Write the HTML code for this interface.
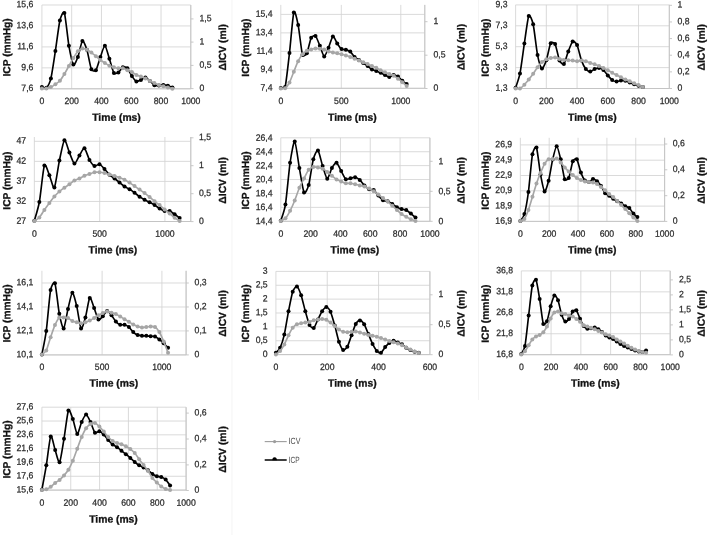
<!DOCTYPE html>
<html><head><meta charset="utf-8"><title>ICP and ICV pulse waveforms</title>
<style>
html,body{margin:0;padding:0;background:#fff;}
body{width:709px;height:535px;overflow:hidden;}
svg{display:block;}
text{text-rendering:geometricPrecision;}
.g{stroke:#d3d3d3;stroke-width:0.85;fill:none;}
.a{stroke:#c2c2c2;stroke-width:0.9;fill:none;}
.t{font-family:"Liberation Sans", Arial, sans-serif;font-size:9.20px;fill:#2b2b2b;stroke:#2b2b2b;stroke-width:0.25px;}
.b{font-family:"Liberation Sans", Arial, sans-serif;font-size:10.30px;font-weight:bold;fill:#111;stroke:#111;stroke-width:0.3px;}
.l{font-family:"Liberation Sans", Arial, sans-serif;font-size:9.0px;fill:#4a4a4a;}
</style></head><body>
<svg width="709" height="535" viewBox="0 0 709 535" style="filter:blur(0.5px)">
<rect width="709" height="535" fill="#fff"/>
<g><line x1="41.90" y1="5.00" x2="41.90" y2="88.80" class="g"/>
<line x1="71.68" y1="5.00" x2="71.68" y2="88.80" class="g"/>
<line x1="101.46" y1="5.00" x2="101.46" y2="88.80" class="g"/>
<line x1="131.24" y1="5.00" x2="131.24" y2="88.80" class="g"/>
<line x1="161.02" y1="5.00" x2="161.02" y2="88.80" class="g"/>
<line x1="190.80" y1="5.00" x2="190.80" y2="88.80" class="g"/>
<line x1="41.90" y1="5.00" x2="190.80" y2="5.00" class="g"/>
<line x1="41.90" y1="25.95" x2="190.80" y2="25.95" class="g"/>
<line x1="41.90" y1="46.90" x2="190.80" y2="46.90" class="g"/>
<line x1="41.90" y1="67.85" x2="190.80" y2="67.85" class="g"/>
<line x1="41.90" y1="88.80" x2="190.80" y2="88.80" class="g"/>
<line x1="190.80" y1="5.00" x2="190.80" y2="88.80" class="a"/>
<line x1="41.90" y1="88.80" x2="190.80" y2="88.80" class="a"/>
<line x1="190.80" y1="18.90" x2="193.50" y2="18.90" class="a"/>
<line x1="190.80" y1="42.10" x2="193.50" y2="42.10" class="a"/>
<line x1="190.80" y1="65.40" x2="193.50" y2="65.40" class="a"/>
<line x1="190.80" y1="88.60" x2="193.50" y2="88.60" class="a"/>
<text transform="translate(33.40 7.30) rotate(0.04) scale(0.943 1)" class="t" text-anchor="end">15,6</text>
<text transform="translate(33.40 28.25) rotate(0.04) scale(0.943 1)" class="t" text-anchor="end">13,6</text>
<text transform="translate(33.40 49.20) rotate(0.04) scale(0.943 1)" class="t" text-anchor="end">11,6</text>
<text transform="translate(33.40 70.15) rotate(0.04) scale(0.943 1)" class="t" text-anchor="end">9,6</text>
<text transform="translate(33.40 91.10) rotate(0.04) scale(0.943 1)" class="t" text-anchor="end">7,6</text>
<text transform="translate(199.50 21.20) rotate(0.04) scale(0.943 1)" class="t">1,5</text>
<text transform="translate(199.50 44.40) rotate(0.04) scale(0.943 1)" class="t">1</text>
<text transform="translate(199.50 67.70) rotate(0.04) scale(0.943 1)" class="t">0,5</text>
<text transform="translate(199.50 90.90) rotate(0.04) scale(0.943 1)" class="t">0</text>
<text transform="translate(41.90 104.00) rotate(0.04) scale(0.943 1)" class="t" text-anchor="middle">0</text>
<text transform="translate(71.68 104.00) rotate(0.04) scale(0.943 1)" class="t" text-anchor="middle">200</text>
<text transform="translate(101.46 104.00) rotate(0.04) scale(0.943 1)" class="t" text-anchor="middle">400</text>
<text transform="translate(131.24 104.00) rotate(0.04) scale(0.943 1)" class="t" text-anchor="middle">600</text>
<text transform="translate(161.02 104.00) rotate(0.04) scale(0.943 1)" class="t" text-anchor="middle">800</text>
<text transform="translate(190.80 104.00) rotate(0.04) scale(0.943 1)" class="t" text-anchor="middle">1000</text>
<text transform="translate(10.25 47.40) rotate(-89.96)" class="b" text-anchor="middle" textLength="58.2" lengthAdjust="spacingAndGlyphs">ICP (mmHg)</text>
<text transform="translate(226.00 47.20) rotate(-89.96)" class="b" text-anchor="middle" textLength="46.5" lengthAdjust="spacingAndGlyphs">ΔICV (ml)</text>
<text transform="translate(116.50 120.85) rotate(0.04)" class="b" text-anchor="middle" textLength="48.6" lengthAdjust="spacingAndGlyphs">Time (ms)</text>
<path d="M41.90 87.10C42.44 87.18 45.32 88.84 46.40 87.80C47.48 86.76 49.91 82.45 50.90 78.40C51.98 73.97 54.32 57.85 55.40 50.90C56.48 43.95 58.82 25.05 59.90 20.50C60.71 17.10 63.32 9.96 64.40 13.00C65.48 16.04 67.82 39.63 68.90 45.80C69.98 51.97 72.32 63.06 73.40 64.40C74.48 65.74 76.82 59.80 77.90 57.00C78.98 54.20 81.32 41.98 82.40 41.10C83.48 40.22 85.82 46.32 86.90 49.70C87.98 53.08 90.32 66.84 91.40 69.30C92.14 70.98 94.82 71.68 95.90 70.20C96.98 68.72 99.32 59.93 100.40 57.00C101.48 54.07 103.82 45.58 104.90 45.80C105.98 46.02 108.32 55.54 109.40 58.80C110.48 62.06 112.82 71.37 113.90 73.00C114.90 74.51 117.32 73.10 118.40 72.40C119.48 71.70 121.82 67.69 122.90 67.20C123.98 66.71 126.32 67.23 127.40 68.30C128.48 69.37 130.82 74.53 131.90 76.10C132.98 77.67 135.32 80.94 136.40 81.40C137.48 81.86 139.82 80.37 140.90 79.90C141.98 79.43 144.32 77.38 145.40 77.50C146.48 77.62 148.82 79.98 149.90 80.90C150.98 81.82 153.32 84.64 154.40 85.20C155.48 85.76 157.82 85.64 158.90 85.60C159.98 85.56 162.32 84.89 163.40 84.90C164.48 84.91 166.82 85.40 167.90 85.70C168.98 86.00 171.86 87.20 172.40 87.40" fill="none" stroke="#000000" stroke-width="1.65" stroke-linejoin="round" stroke-linecap="round"/>
<circle cx="41.90" cy="87.10" r="2.0" fill="#000000"/>
<circle cx="46.40" cy="87.80" r="2.0" fill="#000000"/>
<circle cx="50.90" cy="78.40" r="2.0" fill="#000000"/>
<circle cx="55.40" cy="50.90" r="2.0" fill="#000000"/>
<circle cx="59.90" cy="20.50" r="2.0" fill="#000000"/>
<circle cx="64.40" cy="13.00" r="2.0" fill="#000000"/>
<circle cx="68.90" cy="45.80" r="2.0" fill="#000000"/>
<circle cx="73.40" cy="64.40" r="2.0" fill="#000000"/>
<circle cx="77.90" cy="57.00" r="2.0" fill="#000000"/>
<circle cx="82.40" cy="41.10" r="2.0" fill="#000000"/>
<circle cx="86.90" cy="49.70" r="2.0" fill="#000000"/>
<circle cx="91.40" cy="69.30" r="2.0" fill="#000000"/>
<circle cx="95.90" cy="70.20" r="2.0" fill="#000000"/>
<circle cx="100.40" cy="57.00" r="2.0" fill="#000000"/>
<circle cx="104.90" cy="45.80" r="2.0" fill="#000000"/>
<circle cx="109.40" cy="58.80" r="2.0" fill="#000000"/>
<circle cx="113.90" cy="73.00" r="2.0" fill="#000000"/>
<circle cx="118.40" cy="72.40" r="2.0" fill="#000000"/>
<circle cx="122.90" cy="67.20" r="2.0" fill="#000000"/>
<circle cx="127.40" cy="68.30" r="2.0" fill="#000000"/>
<circle cx="131.90" cy="76.10" r="2.0" fill="#000000"/>
<circle cx="136.40" cy="81.40" r="2.0" fill="#000000"/>
<circle cx="140.90" cy="79.90" r="2.0" fill="#000000"/>
<circle cx="145.40" cy="77.50" r="2.0" fill="#000000"/>
<circle cx="149.90" cy="80.90" r="2.0" fill="#000000"/>
<circle cx="154.40" cy="85.20" r="2.0" fill="#000000"/>
<circle cx="158.90" cy="85.60" r="2.0" fill="#000000"/>
<circle cx="163.40" cy="84.90" r="2.0" fill="#000000"/>
<circle cx="167.90" cy="85.70" r="2.0" fill="#000000"/>
<circle cx="172.40" cy="87.40" r="2.0" fill="#000000"/>
<path d="M41.90 88.50C42.44 88.50 45.32 88.67 46.40 88.50C47.48 88.33 49.82 87.60 50.90 87.10C51.98 86.60 54.32 85.06 55.40 84.30C56.48 83.54 58.82 82.04 59.90 80.80C60.98 79.56 63.32 75.78 64.40 74.00C65.48 72.22 67.82 67.92 68.90 66.00C69.98 64.08 72.32 59.76 73.40 58.00C74.48 56.24 76.82 52.44 77.90 51.30C78.98 50.16 81.32 48.68 82.40 48.50C83.48 48.32 85.82 49.31 86.90 49.80C87.98 50.29 90.32 51.83 91.40 52.60C92.48 53.37 94.82 55.31 95.90 56.20C96.98 57.09 99.32 59.18 100.40 60.00C101.48 60.82 103.82 62.32 104.90 63.00C105.98 63.68 108.32 65.20 109.40 65.70C110.48 66.20 112.82 66.90 113.90 67.20C114.98 67.50 117.32 68.08 118.40 68.20C119.48 68.32 121.82 67.96 122.90 68.20C123.98 68.44 126.32 69.76 127.40 70.20C128.48 70.64 130.82 71.32 131.90 71.90C132.98 72.48 135.32 74.46 136.40 75.00C137.48 75.54 139.82 75.97 140.90 76.40C141.98 76.83 144.32 78.06 145.40 78.60C146.48 79.14 148.82 80.37 149.90 80.90C150.98 81.43 153.32 82.52 154.40 83.00C155.48 83.48 157.82 84.50 158.90 84.90C159.98 85.30 162.32 86.00 163.40 86.30C164.48 86.60 166.82 87.10 167.90 87.40C168.98 87.70 171.86 88.63 172.40 88.80" fill="none" stroke="#a6a6a6" stroke-width="1.65" stroke-linejoin="round" stroke-linecap="round"/>
<circle cx="41.90" cy="88.50" r="2.0" fill="#a6a6a6"/>
<circle cx="46.40" cy="88.50" r="2.0" fill="#a6a6a6"/>
<circle cx="50.90" cy="87.10" r="2.0" fill="#a6a6a6"/>
<circle cx="55.40" cy="84.30" r="2.0" fill="#a6a6a6"/>
<circle cx="59.90" cy="80.80" r="2.0" fill="#a6a6a6"/>
<circle cx="64.40" cy="74.00" r="2.0" fill="#a6a6a6"/>
<circle cx="68.90" cy="66.00" r="2.0" fill="#a6a6a6"/>
<circle cx="73.40" cy="58.00" r="2.0" fill="#a6a6a6"/>
<circle cx="77.90" cy="51.30" r="2.0" fill="#a6a6a6"/>
<circle cx="82.40" cy="48.50" r="2.0" fill="#a6a6a6"/>
<circle cx="86.90" cy="49.80" r="2.0" fill="#a6a6a6"/>
<circle cx="91.40" cy="52.60" r="2.0" fill="#a6a6a6"/>
<circle cx="95.90" cy="56.20" r="2.0" fill="#a6a6a6"/>
<circle cx="100.40" cy="60.00" r="2.0" fill="#a6a6a6"/>
<circle cx="104.90" cy="63.00" r="2.0" fill="#a6a6a6"/>
<circle cx="109.40" cy="65.70" r="2.0" fill="#a6a6a6"/>
<circle cx="113.90" cy="67.20" r="2.0" fill="#a6a6a6"/>
<circle cx="118.40" cy="68.20" r="2.0" fill="#a6a6a6"/>
<circle cx="122.90" cy="68.20" r="2.0" fill="#a6a6a6"/>
<circle cx="127.40" cy="70.20" r="2.0" fill="#a6a6a6"/>
<circle cx="131.90" cy="71.90" r="2.0" fill="#a6a6a6"/>
<circle cx="136.40" cy="75.00" r="2.0" fill="#a6a6a6"/>
<circle cx="140.90" cy="76.40" r="2.0" fill="#a6a6a6"/>
<circle cx="145.40" cy="78.60" r="2.0" fill="#a6a6a6"/>
<circle cx="149.90" cy="80.90" r="2.0" fill="#a6a6a6"/>
<circle cx="154.40" cy="83.00" r="2.0" fill="#a6a6a6"/>
<circle cx="158.90" cy="84.90" r="2.0" fill="#a6a6a6"/>
<circle cx="163.40" cy="86.30" r="2.0" fill="#a6a6a6"/>
<circle cx="167.90" cy="87.40" r="2.0" fill="#a6a6a6"/>
<circle cx="172.40" cy="88.80" r="2.0" fill="#a6a6a6"/></g>
<g><line x1="280.80" y1="4.90" x2="280.80" y2="88.30" class="g"/>
<line x1="341.30" y1="4.90" x2="341.30" y2="88.30" class="g"/>
<line x1="400.80" y1="4.90" x2="400.80" y2="88.30" class="g"/>
<line x1="424.80" y1="4.90" x2="424.80" y2="88.30" class="g"/>
<line x1="280.80" y1="14.40" x2="424.80" y2="14.40" class="g"/>
<line x1="280.80" y1="32.88" x2="424.80" y2="32.88" class="g"/>
<line x1="280.80" y1="51.35" x2="424.80" y2="51.35" class="g"/>
<line x1="280.80" y1="69.83" x2="424.80" y2="69.83" class="g"/>
<line x1="280.80" y1="88.30" x2="424.80" y2="88.30" class="g"/>
<line x1="424.80" y1="4.90" x2="424.80" y2="88.30" class="a"/>
<line x1="280.80" y1="88.30" x2="424.80" y2="88.30" class="a"/>
<line x1="424.80" y1="21.70" x2="427.50" y2="21.70" class="a"/>
<line x1="424.80" y1="55.20" x2="427.50" y2="55.20" class="a"/>
<line x1="424.80" y1="88.50" x2="427.50" y2="88.50" class="a"/>
<text transform="translate(272.60 16.70) rotate(0.04) scale(0.943 1)" class="t" text-anchor="end">15,4</text>
<text transform="translate(272.60 35.17) rotate(0.04) scale(0.943 1)" class="t" text-anchor="end">13,4</text>
<text transform="translate(272.60 53.65) rotate(0.04) scale(0.943 1)" class="t" text-anchor="end">11,4</text>
<text transform="translate(272.60 72.12) rotate(0.04) scale(0.943 1)" class="t" text-anchor="end">9,4</text>
<text transform="translate(272.60 90.60) rotate(0.04) scale(0.943 1)" class="t" text-anchor="end">7,4</text>
<text transform="translate(433.40 24.00) rotate(0.04) scale(0.943 1)" class="t">1</text>
<text transform="translate(433.40 57.50) rotate(0.04) scale(0.943 1)" class="t">0,5</text>
<text transform="translate(433.40 90.80) rotate(0.04) scale(0.943 1)" class="t">0</text>
<text transform="translate(280.80 104.00) rotate(0.04) scale(0.943 1)" class="t" text-anchor="middle">0</text>
<text transform="translate(341.30 104.00) rotate(0.04) scale(0.943 1)" class="t" text-anchor="middle">500</text>
<text transform="translate(400.80 104.00) rotate(0.04) scale(0.943 1)" class="t" text-anchor="middle">1000</text>
<text transform="translate(249.10 47.60) rotate(-89.96)" class="b" text-anchor="middle" textLength="58.2" lengthAdjust="spacingAndGlyphs">ICP (mmHg)</text>
<text transform="translate(464.60 47.10) rotate(-89.96)" class="b" text-anchor="middle" textLength="46.5" lengthAdjust="spacingAndGlyphs">ΔICV (ml)</text>
<text transform="translate(352.30 120.85) rotate(0.04)" class="b" text-anchor="middle" textLength="48.6" lengthAdjust="spacingAndGlyphs">Time (ms)</text>
<path d="M280.80 88.10C281.32 87.98 284.71 88.83 285.14 87.10C286.18 82.89 288.44 61.96 289.48 53.00C290.52 44.04 292.78 15.75 293.82 12.40C294.86 9.05 297.12 19.99 298.16 25.10C299.20 30.21 301.46 51.62 302.50 55.00C303.05 56.78 306.00 54.96 306.84 53.30C307.88 51.24 310.14 39.88 311.18 37.80C312.02 36.12 314.48 35.04 315.52 36.00C316.56 36.96 318.82 43.35 319.86 45.80C320.90 48.25 323.16 56.17 324.20 56.40C325.24 56.63 327.50 50.10 328.54 47.70C329.58 45.30 331.84 36.92 332.88 36.40C333.92 35.88 336.18 41.88 337.22 43.40C338.26 44.92 340.52 48.33 341.56 49.10C342.60 49.87 344.86 49.51 345.90 49.80C346.94 50.09 349.20 50.64 350.24 51.50C351.28 52.36 353.54 55.99 354.58 57.00C355.62 58.01 357.88 59.17 358.92 59.90C359.96 60.63 362.22 62.37 363.26 63.10C364.30 63.83 366.56 65.23 367.60 66.00C368.64 66.77 370.90 68.91 371.94 69.50C372.98 70.09 375.24 70.52 376.28 70.90C377.32 71.28 379.58 72.20 380.62 72.70C381.66 73.20 383.92 74.58 384.96 75.10C386.00 75.62 388.26 77.00 389.30 77.00C390.34 77.00 392.60 75.16 393.64 75.10C394.68 75.04 396.94 75.82 397.98 76.50C399.02 77.18 401.28 79.90 402.32 80.80C403.36 81.70 406.14 83.62 406.66 84.00" fill="none" stroke="#000000" stroke-width="1.65" stroke-linejoin="round" stroke-linecap="round"/>
<circle cx="280.80" cy="88.10" r="2.0" fill="#000000"/>
<circle cx="285.14" cy="87.10" r="2.0" fill="#000000"/>
<circle cx="289.48" cy="53.00" r="2.0" fill="#000000"/>
<circle cx="293.82" cy="12.40" r="2.0" fill="#000000"/>
<circle cx="298.16" cy="25.10" r="2.0" fill="#000000"/>
<circle cx="302.50" cy="55.00" r="2.0" fill="#000000"/>
<circle cx="306.84" cy="53.30" r="2.0" fill="#000000"/>
<circle cx="311.18" cy="37.80" r="2.0" fill="#000000"/>
<circle cx="315.52" cy="36.00" r="2.0" fill="#000000"/>
<circle cx="319.86" cy="45.80" r="2.0" fill="#000000"/>
<circle cx="324.20" cy="56.40" r="2.0" fill="#000000"/>
<circle cx="328.54" cy="47.70" r="2.0" fill="#000000"/>
<circle cx="332.88" cy="36.40" r="2.0" fill="#000000"/>
<circle cx="337.22" cy="43.40" r="2.0" fill="#000000"/>
<circle cx="341.56" cy="49.10" r="2.0" fill="#000000"/>
<circle cx="345.90" cy="49.80" r="2.0" fill="#000000"/>
<circle cx="350.24" cy="51.50" r="2.0" fill="#000000"/>
<circle cx="354.58" cy="57.00" r="2.0" fill="#000000"/>
<circle cx="358.92" cy="59.90" r="2.0" fill="#000000"/>
<circle cx="363.26" cy="63.10" r="2.0" fill="#000000"/>
<circle cx="367.60" cy="66.00" r="2.0" fill="#000000"/>
<circle cx="371.94" cy="69.50" r="2.0" fill="#000000"/>
<circle cx="376.28" cy="70.90" r="2.0" fill="#000000"/>
<circle cx="380.62" cy="72.70" r="2.0" fill="#000000"/>
<circle cx="384.96" cy="75.10" r="2.0" fill="#000000"/>
<circle cx="389.30" cy="77.00" r="2.0" fill="#000000"/>
<circle cx="393.64" cy="75.10" r="2.0" fill="#000000"/>
<circle cx="397.98" cy="76.50" r="2.0" fill="#000000"/>
<circle cx="402.32" cy="80.80" r="2.0" fill="#000000"/>
<circle cx="406.66" cy="84.00" r="2.0" fill="#000000"/>
<path d="M280.80 88.40C281.32 88.38 284.10 88.91 285.14 88.20C286.18 87.49 288.44 84.48 289.48 82.50C290.52 80.52 292.78 74.26 293.82 71.70C294.86 69.14 297.12 63.29 298.16 61.20C299.20 59.11 301.46 55.55 302.50 54.30C303.54 53.05 305.80 51.39 306.84 50.80C307.88 50.21 310.14 49.69 311.18 49.40C312.22 49.11 314.48 48.48 315.52 48.40C316.56 48.32 318.82 48.56 319.86 48.70C320.90 48.84 323.16 49.26 324.20 49.60C325.24 49.94 327.50 51.15 328.54 51.50C329.58 51.85 331.84 52.28 332.88 52.50C333.92 52.72 336.18 53.10 337.22 53.30C338.26 53.50 340.52 53.94 341.56 54.20C342.60 54.46 344.86 55.18 345.90 55.50C346.94 55.82 349.20 56.52 350.24 56.90C351.28 57.28 353.54 58.28 354.58 58.70C355.62 59.12 357.88 59.97 358.92 60.40C359.96 60.83 362.22 61.87 363.26 62.30C364.30 62.73 366.56 63.56 367.60 64.00C368.64 64.44 370.90 65.54 371.94 66.00C372.98 66.46 375.24 67.30 376.28 67.80C377.32 68.30 379.58 69.66 380.62 70.20C381.66 70.74 383.92 71.84 384.96 72.30C386.00 72.76 388.26 73.58 389.30 74.00C390.34 74.42 392.60 75.24 393.64 75.80C394.68 76.36 396.94 77.93 397.98 78.70C399.02 79.47 401.28 81.31 402.32 82.20C403.36 83.09 406.14 85.63 406.66 86.10" fill="none" stroke="#a6a6a6" stroke-width="1.65" stroke-linejoin="round" stroke-linecap="round"/>
<circle cx="280.80" cy="88.40" r="2.0" fill="#a6a6a6"/>
<circle cx="285.14" cy="88.20" r="2.0" fill="#a6a6a6"/>
<circle cx="289.48" cy="82.50" r="2.0" fill="#a6a6a6"/>
<circle cx="293.82" cy="71.70" r="2.0" fill="#a6a6a6"/>
<circle cx="298.16" cy="61.20" r="2.0" fill="#a6a6a6"/>
<circle cx="302.50" cy="54.30" r="2.0" fill="#a6a6a6"/>
<circle cx="306.84" cy="50.80" r="2.0" fill="#a6a6a6"/>
<circle cx="311.18" cy="49.40" r="2.0" fill="#a6a6a6"/>
<circle cx="315.52" cy="48.40" r="2.0" fill="#a6a6a6"/>
<circle cx="319.86" cy="48.70" r="2.0" fill="#a6a6a6"/>
<circle cx="324.20" cy="49.60" r="2.0" fill="#a6a6a6"/>
<circle cx="328.54" cy="51.50" r="2.0" fill="#a6a6a6"/>
<circle cx="332.88" cy="52.50" r="2.0" fill="#a6a6a6"/>
<circle cx="337.22" cy="53.30" r="2.0" fill="#a6a6a6"/>
<circle cx="341.56" cy="54.20" r="2.0" fill="#a6a6a6"/>
<circle cx="345.90" cy="55.50" r="2.0" fill="#a6a6a6"/>
<circle cx="350.24" cy="56.90" r="2.0" fill="#a6a6a6"/>
<circle cx="354.58" cy="58.70" r="2.0" fill="#a6a6a6"/>
<circle cx="358.92" cy="60.40" r="2.0" fill="#a6a6a6"/>
<circle cx="363.26" cy="62.30" r="2.0" fill="#a6a6a6"/>
<circle cx="367.60" cy="64.00" r="2.0" fill="#a6a6a6"/>
<circle cx="371.94" cy="66.00" r="2.0" fill="#a6a6a6"/>
<circle cx="376.28" cy="67.80" r="2.0" fill="#a6a6a6"/>
<circle cx="380.62" cy="70.20" r="2.0" fill="#a6a6a6"/>
<circle cx="384.96" cy="72.30" r="2.0" fill="#a6a6a6"/>
<circle cx="389.30" cy="74.00" r="2.0" fill="#a6a6a6"/>
<circle cx="393.64" cy="75.80" r="2.0" fill="#a6a6a6"/>
<circle cx="397.98" cy="78.70" r="2.0" fill="#a6a6a6"/>
<circle cx="402.32" cy="82.20" r="2.0" fill="#a6a6a6"/>
<circle cx="406.66" cy="86.10" r="2.0" fill="#a6a6a6"/></g>
<g><line x1="515.60" y1="4.90" x2="515.60" y2="88.50" class="g"/>
<line x1="546.34" y1="4.90" x2="546.34" y2="88.50" class="g"/>
<line x1="577.08" y1="4.90" x2="577.08" y2="88.50" class="g"/>
<line x1="607.82" y1="4.90" x2="607.82" y2="88.50" class="g"/>
<line x1="638.56" y1="4.90" x2="638.56" y2="88.50" class="g"/>
<line x1="669.30" y1="4.90" x2="669.30" y2="88.50" class="g"/>
<line x1="515.60" y1="4.90" x2="669.30" y2="4.90" class="g"/>
<line x1="515.60" y1="25.80" x2="669.30" y2="25.80" class="g"/>
<line x1="515.60" y1="46.70" x2="669.30" y2="46.70" class="g"/>
<line x1="515.60" y1="67.60" x2="669.30" y2="67.60" class="g"/>
<line x1="515.60" y1="88.50" x2="669.30" y2="88.50" class="g"/>
<line x1="669.30" y1="4.90" x2="669.30" y2="88.50" class="a"/>
<line x1="515.60" y1="88.50" x2="669.30" y2="88.50" class="a"/>
<line x1="669.30" y1="5.30" x2="672.00" y2="5.30" class="a"/>
<line x1="669.30" y1="21.94" x2="672.00" y2="21.94" class="a"/>
<line x1="669.30" y1="38.58" x2="672.00" y2="38.58" class="a"/>
<line x1="669.30" y1="55.22" x2="672.00" y2="55.22" class="a"/>
<line x1="669.30" y1="71.86" x2="672.00" y2="71.86" class="a"/>
<line x1="669.30" y1="88.50" x2="672.00" y2="88.50" class="a"/>
<text transform="translate(507.50 7.20) rotate(0.04) scale(0.943 1)" class="t" text-anchor="end">9,3</text>
<text transform="translate(507.50 28.10) rotate(0.04) scale(0.943 1)" class="t" text-anchor="end">7,3</text>
<text transform="translate(507.50 49.00) rotate(0.04) scale(0.943 1)" class="t" text-anchor="end">5,3</text>
<text transform="translate(507.50 69.90) rotate(0.04) scale(0.943 1)" class="t" text-anchor="end">3,3</text>
<text transform="translate(507.50 90.80) rotate(0.04) scale(0.943 1)" class="t" text-anchor="end">1,3</text>
<text transform="translate(677.50 7.60) rotate(0.04) scale(0.943 1)" class="t">1</text>
<text transform="translate(677.50 24.24) rotate(0.04) scale(0.943 1)" class="t">0,8</text>
<text transform="translate(677.50 40.88) rotate(0.04) scale(0.943 1)" class="t">0,6</text>
<text transform="translate(677.50 57.52) rotate(0.04) scale(0.943 1)" class="t">0,4</text>
<text transform="translate(677.50 74.16) rotate(0.04) scale(0.943 1)" class="t">0,2</text>
<text transform="translate(677.50 90.80) rotate(0.04) scale(0.943 1)" class="t">0</text>
<text transform="translate(515.60 104.00) rotate(0.04) scale(0.943 1)" class="t" text-anchor="middle">0</text>
<text transform="translate(546.34 104.00) rotate(0.04) scale(0.943 1)" class="t" text-anchor="middle">200</text>
<text transform="translate(577.08 104.00) rotate(0.04) scale(0.943 1)" class="t" text-anchor="middle">400</text>
<text transform="translate(607.82 104.00) rotate(0.04) scale(0.943 1)" class="t" text-anchor="middle">600</text>
<text transform="translate(638.56 104.00) rotate(0.04) scale(0.943 1)" class="t" text-anchor="middle">800</text>
<text transform="translate(669.30 104.00) rotate(0.04) scale(0.943 1)" class="t" text-anchor="middle">1000</text>
<text transform="translate(488.80 47.60) rotate(-89.96)" class="b" text-anchor="middle" textLength="58.2" lengthAdjust="spacingAndGlyphs">ICP (mmHg)</text>
<text transform="translate(704.80 47.20) rotate(-89.96)" class="b" text-anchor="middle" textLength="46.5" lengthAdjust="spacingAndGlyphs">ΔICV (ml)</text>
<text transform="translate(592.30 120.85) rotate(0.04)" class="b" text-anchor="middle" textLength="48.6" lengthAdjust="spacingAndGlyphs">Time (ms)</text>
<path d="M515.60 87.80C516.13 86.07 518.94 78.73 519.99 73.40C521.04 68.07 523.33 50.30 524.38 43.40C525.43 36.50 527.72 18.19 528.77 15.90C529.82 13.61 532.33 20.60 533.16 24.30C534.21 29.00 536.50 49.80 537.55 55.10C538.60 60.40 540.89 67.89 541.94 68.50C542.99 69.11 545.28 63.24 546.33 60.20C547.38 57.16 549.67 45.13 550.72 43.20C551.58 41.63 554.30 42.50 555.11 44.10C556.16 46.16 558.45 58.01 559.50 60.40C560.42 62.48 562.84 65.08 563.89 64.00C564.94 62.92 567.23 54.09 568.28 51.40C569.33 48.71 571.62 42.37 572.67 41.60C573.72 40.83 576.12 42.99 577.06 45.00C578.11 47.26 580.40 57.51 581.45 60.40C582.50 63.29 584.79 67.76 585.84 69.10C586.89 70.44 589.18 71.60 590.23 71.60C591.28 71.60 593.57 69.53 594.62 69.10C595.67 68.67 597.96 67.88 599.01 68.00C600.06 68.12 602.35 69.21 603.40 70.10C604.45 70.99 606.74 74.20 607.79 75.40C608.84 76.60 611.13 79.37 612.18 80.10C613.23 80.83 615.52 81.45 616.57 81.50C617.62 81.55 619.91 80.58 620.96 80.50C622.01 80.42 624.30 80.56 625.35 80.80C626.40 81.04 628.69 82.08 629.74 82.50C630.79 82.92 633.08 83.92 634.13 84.30C635.18 84.68 637.47 85.36 638.52 85.70C639.57 86.04 642.38 86.93 642.91 87.10" fill="none" stroke="#000000" stroke-width="1.65" stroke-linejoin="round" stroke-linecap="round"/>
<circle cx="515.60" cy="87.80" r="2.0" fill="#000000"/>
<circle cx="519.99" cy="73.40" r="2.0" fill="#000000"/>
<circle cx="524.38" cy="43.40" r="2.0" fill="#000000"/>
<circle cx="528.77" cy="15.90" r="2.0" fill="#000000"/>
<circle cx="533.16" cy="24.30" r="2.0" fill="#000000"/>
<circle cx="537.55" cy="55.10" r="2.0" fill="#000000"/>
<circle cx="541.94" cy="68.50" r="2.0" fill="#000000"/>
<circle cx="546.33" cy="60.20" r="2.0" fill="#000000"/>
<circle cx="550.72" cy="43.20" r="2.0" fill="#000000"/>
<circle cx="555.11" cy="44.10" r="2.0" fill="#000000"/>
<circle cx="559.50" cy="60.40" r="2.0" fill="#000000"/>
<circle cx="563.89" cy="64.00" r="2.0" fill="#000000"/>
<circle cx="568.28" cy="51.40" r="2.0" fill="#000000"/>
<circle cx="572.67" cy="41.60" r="2.0" fill="#000000"/>
<circle cx="577.06" cy="45.00" r="2.0" fill="#000000"/>
<circle cx="581.45" cy="60.40" r="2.0" fill="#000000"/>
<circle cx="585.84" cy="69.10" r="2.0" fill="#000000"/>
<circle cx="590.23" cy="71.60" r="2.0" fill="#000000"/>
<circle cx="594.62" cy="69.10" r="2.0" fill="#000000"/>
<circle cx="599.01" cy="68.00" r="2.0" fill="#000000"/>
<circle cx="603.40" cy="70.10" r="2.0" fill="#000000"/>
<circle cx="607.79" cy="75.40" r="2.0" fill="#000000"/>
<circle cx="612.18" cy="80.10" r="2.0" fill="#000000"/>
<circle cx="616.57" cy="81.50" r="2.0" fill="#000000"/>
<circle cx="620.96" cy="80.50" r="2.0" fill="#000000"/>
<circle cx="625.35" cy="80.80" r="2.0" fill="#000000"/>
<circle cx="629.74" cy="82.50" r="2.0" fill="#000000"/>
<circle cx="634.13" cy="84.30" r="2.0" fill="#000000"/>
<circle cx="638.52" cy="85.70" r="2.0" fill="#000000"/>
<circle cx="642.91" cy="87.10" r="2.0" fill="#000000"/>
<path d="M515.60 88.50C516.13 88.50 518.94 88.96 519.99 88.50C521.04 88.04 523.33 85.79 524.38 84.70C525.43 83.61 527.72 80.71 528.77 79.40C529.82 78.09 532.11 75.26 533.16 73.80C534.21 72.34 536.50 68.60 537.55 67.20C538.60 65.80 540.89 63.05 541.94 62.10C542.99 61.15 545.28 59.80 546.33 59.30C547.38 58.80 549.67 58.12 550.72 57.90C551.77 57.68 554.06 57.38 555.11 57.50C556.16 57.62 558.45 58.61 559.50 58.90C560.55 59.19 562.84 59.74 563.89 59.90C564.94 60.06 567.23 60.12 568.28 60.20C569.33 60.28 571.62 60.48 572.67 60.60C573.72 60.72 576.01 61.21 577.06 61.20C578.11 61.19 580.40 60.49 581.45 60.50C582.50 60.51 584.79 61.01 585.84 61.30C586.89 61.59 589.18 62.55 590.23 62.90C591.28 63.25 593.57 63.83 594.62 64.20C595.67 64.57 597.96 65.54 599.01 66.00C600.06 66.46 602.35 67.50 603.40 68.00C604.45 68.50 606.74 69.64 607.79 70.20C608.84 70.76 611.13 72.11 612.18 72.70C613.23 73.29 615.52 74.56 616.57 75.10C617.62 75.64 619.91 76.68 620.96 77.20C622.01 77.72 624.30 78.92 625.35 79.40C626.40 79.88 628.69 80.73 629.74 81.20C630.79 81.67 633.08 82.84 634.13 83.30C635.18 83.76 637.47 84.54 638.52 85.00C639.57 85.46 642.38 86.85 642.91 87.10" fill="none" stroke="#a6a6a6" stroke-width="1.65" stroke-linejoin="round" stroke-linecap="round"/>
<circle cx="515.60" cy="88.50" r="2.0" fill="#a6a6a6"/>
<circle cx="519.99" cy="88.50" r="2.0" fill="#a6a6a6"/>
<circle cx="524.38" cy="84.70" r="2.0" fill="#a6a6a6"/>
<circle cx="528.77" cy="79.40" r="2.0" fill="#a6a6a6"/>
<circle cx="533.16" cy="73.80" r="2.0" fill="#a6a6a6"/>
<circle cx="537.55" cy="67.20" r="2.0" fill="#a6a6a6"/>
<circle cx="541.94" cy="62.10" r="2.0" fill="#a6a6a6"/>
<circle cx="546.33" cy="59.30" r="2.0" fill="#a6a6a6"/>
<circle cx="550.72" cy="57.90" r="2.0" fill="#a6a6a6"/>
<circle cx="555.11" cy="57.50" r="2.0" fill="#a6a6a6"/>
<circle cx="559.50" cy="58.90" r="2.0" fill="#a6a6a6"/>
<circle cx="563.89" cy="59.90" r="2.0" fill="#a6a6a6"/>
<circle cx="568.28" cy="60.20" r="2.0" fill="#a6a6a6"/>
<circle cx="572.67" cy="60.60" r="2.0" fill="#a6a6a6"/>
<circle cx="577.06" cy="61.20" r="2.0" fill="#a6a6a6"/>
<circle cx="581.45" cy="60.50" r="2.0" fill="#a6a6a6"/>
<circle cx="585.84" cy="61.30" r="2.0" fill="#a6a6a6"/>
<circle cx="590.23" cy="62.90" r="2.0" fill="#a6a6a6"/>
<circle cx="594.62" cy="64.20" r="2.0" fill="#a6a6a6"/>
<circle cx="599.01" cy="66.00" r="2.0" fill="#a6a6a6"/>
<circle cx="603.40" cy="68.00" r="2.0" fill="#a6a6a6"/>
<circle cx="607.79" cy="70.20" r="2.0" fill="#a6a6a6"/>
<circle cx="612.18" cy="72.70" r="2.0" fill="#a6a6a6"/>
<circle cx="616.57" cy="75.10" r="2.0" fill="#a6a6a6"/>
<circle cx="620.96" cy="77.20" r="2.0" fill="#a6a6a6"/>
<circle cx="625.35" cy="79.40" r="2.0" fill="#a6a6a6"/>
<circle cx="629.74" cy="81.20" r="2.0" fill="#a6a6a6"/>
<circle cx="634.13" cy="83.30" r="2.0" fill="#a6a6a6"/>
<circle cx="638.52" cy="85.00" r="2.0" fill="#a6a6a6"/>
<circle cx="642.91" cy="87.10" r="2.0" fill="#a6a6a6"/></g>
<g><line x1="34.35" y1="137.00" x2="34.35" y2="221.50" class="g"/>
<line x1="99.70" y1="137.00" x2="99.70" y2="221.50" class="g"/>
<line x1="164.90" y1="137.00" x2="164.90" y2="221.50" class="g"/>
<line x1="190.80" y1="137.00" x2="190.80" y2="221.50" class="g"/>
<line x1="34.35" y1="141.30" x2="190.80" y2="141.30" class="g"/>
<line x1="34.35" y1="161.35" x2="190.80" y2="161.35" class="g"/>
<line x1="34.35" y1="181.40" x2="190.80" y2="181.40" class="g"/>
<line x1="34.35" y1="201.45" x2="190.80" y2="201.45" class="g"/>
<line x1="34.35" y1="221.50" x2="190.80" y2="221.50" class="g"/>
<line x1="190.80" y1="137.00" x2="190.80" y2="221.50" class="a"/>
<line x1="34.35" y1="221.50" x2="190.80" y2="221.50" class="a"/>
<line x1="190.80" y1="137.80" x2="193.50" y2="137.80" class="a"/>
<line x1="190.80" y1="165.70" x2="193.50" y2="165.70" class="a"/>
<line x1="190.80" y1="193.70" x2="193.50" y2="193.70" class="a"/>
<line x1="190.80" y1="221.60" x2="193.50" y2="221.60" class="a"/>
<text transform="translate(26.20 143.60) rotate(0.04) scale(0.943 1)" class="t" text-anchor="end">47</text>
<text transform="translate(26.20 163.65) rotate(0.04) scale(0.943 1)" class="t" text-anchor="end">42</text>
<text transform="translate(26.20 183.70) rotate(0.04) scale(0.943 1)" class="t" text-anchor="end">37</text>
<text transform="translate(26.20 203.75) rotate(0.04) scale(0.943 1)" class="t" text-anchor="end">32</text>
<text transform="translate(26.20 223.80) rotate(0.04) scale(0.943 1)" class="t" text-anchor="end">27</text>
<text transform="translate(199.00 140.10) rotate(0.04) scale(0.943 1)" class="t">1,5</text>
<text transform="translate(199.00 168.00) rotate(0.04) scale(0.943 1)" class="t">1</text>
<text transform="translate(199.00 196.00) rotate(0.04) scale(0.943 1)" class="t">0,5</text>
<text transform="translate(199.00 223.90) rotate(0.04) scale(0.943 1)" class="t">0</text>
<text transform="translate(34.50 236.85) rotate(0.04) scale(0.943 1)" class="t" text-anchor="middle">0</text>
<text transform="translate(99.70 236.85) rotate(0.04) scale(0.943 1)" class="t" text-anchor="middle">500</text>
<text transform="translate(164.90 236.85) rotate(0.04) scale(0.943 1)" class="t" text-anchor="middle">1000</text>
<text transform="translate(10.25 180.60) rotate(-89.96)" class="b" text-anchor="middle" textLength="58.2" lengthAdjust="spacingAndGlyphs">ICP (mmHg)</text>
<text transform="translate(226.00 180.40) rotate(-89.96)" class="b" text-anchor="middle" textLength="46.5" lengthAdjust="spacingAndGlyphs">ΔICV (ml)</text>
<text transform="translate(112.90 253.30) rotate(0.04)" class="b" text-anchor="middle" textLength="48.6" lengthAdjust="spacingAndGlyphs">Time (ms)</text>
<path d="M34.35 220.70C34.95 218.46 38.16 208.62 39.36 202.00C40.56 195.38 43.17 168.70 44.37 165.50C45.57 162.30 48.18 172.66 49.38 175.30C50.58 177.94 53.19 189.26 54.39 187.50C55.59 185.74 58.20 166.26 59.40 160.60C60.60 154.94 63.21 141.26 64.41 140.30C65.61 139.34 68.22 149.80 69.42 152.60C70.62 155.40 73.23 163.26 74.43 163.60C75.63 163.94 78.24 157.24 79.44 155.40C80.64 153.56 83.25 147.76 84.45 148.30C85.65 148.84 88.26 157.78 89.46 159.90C90.66 162.02 93.27 165.47 94.47 166.00C95.67 166.53 98.28 163.94 99.48 164.30C100.68 164.66 103.29 167.74 104.49 169.00C105.69 170.26 108.30 173.66 109.50 174.80C110.70 175.94 113.31 177.58 114.51 178.50C115.71 179.42 118.32 181.54 119.52 182.50C120.72 183.46 123.33 185.68 124.53 186.50C125.73 187.32 128.34 188.56 129.54 189.30C130.74 190.04 133.35 191.81 134.55 192.70C135.75 193.59 138.36 195.85 139.56 196.70C140.76 197.55 143.37 199.13 144.57 199.80C145.77 200.47 148.38 201.66 149.58 202.30C150.78 202.94 153.39 204.37 154.59 205.10C155.79 205.83 158.40 207.68 159.60 208.40C160.80 209.12 163.41 210.78 164.61 211.10C165.81 211.42 168.42 210.72 169.62 211.10C170.82 211.48 173.43 213.46 174.63 214.30C175.83 215.14 179.04 217.64 179.64 218.10" fill="none" stroke="#000000" stroke-width="1.65" stroke-linejoin="round" stroke-linecap="round"/>
<circle cx="34.35" cy="220.70" r="2.0" fill="#000000"/>
<circle cx="39.36" cy="202.00" r="2.0" fill="#000000"/>
<circle cx="44.37" cy="165.50" r="2.0" fill="#000000"/>
<circle cx="49.38" cy="175.30" r="2.0" fill="#000000"/>
<circle cx="54.39" cy="187.50" r="2.0" fill="#000000"/>
<circle cx="59.40" cy="160.60" r="2.0" fill="#000000"/>
<circle cx="64.41" cy="140.30" r="2.0" fill="#000000"/>
<circle cx="69.42" cy="152.60" r="2.0" fill="#000000"/>
<circle cx="74.43" cy="163.60" r="2.0" fill="#000000"/>
<circle cx="79.44" cy="155.40" r="2.0" fill="#000000"/>
<circle cx="84.45" cy="148.30" r="2.0" fill="#000000"/>
<circle cx="89.46" cy="159.90" r="2.0" fill="#000000"/>
<circle cx="94.47" cy="166.00" r="2.0" fill="#000000"/>
<circle cx="99.48" cy="164.30" r="2.0" fill="#000000"/>
<circle cx="104.49" cy="169.00" r="2.0" fill="#000000"/>
<circle cx="109.50" cy="174.80" r="2.0" fill="#000000"/>
<circle cx="114.51" cy="178.50" r="2.0" fill="#000000"/>
<circle cx="119.52" cy="182.50" r="2.0" fill="#000000"/>
<circle cx="124.53" cy="186.50" r="2.0" fill="#000000"/>
<circle cx="129.54" cy="189.30" r="2.0" fill="#000000"/>
<circle cx="134.55" cy="192.70" r="2.0" fill="#000000"/>
<circle cx="139.56" cy="196.70" r="2.0" fill="#000000"/>
<circle cx="144.57" cy="199.80" r="2.0" fill="#000000"/>
<circle cx="149.58" cy="202.30" r="2.0" fill="#000000"/>
<circle cx="154.59" cy="205.10" r="2.0" fill="#000000"/>
<circle cx="159.60" cy="208.40" r="2.0" fill="#000000"/>
<circle cx="164.61" cy="211.10" r="2.0" fill="#000000"/>
<circle cx="169.62" cy="211.10" r="2.0" fill="#000000"/>
<circle cx="174.63" cy="214.30" r="2.0" fill="#000000"/>
<circle cx="179.64" cy="218.10" r="2.0" fill="#000000"/>
<path d="M34.35 221.00C34.95 220.58 38.16 218.83 39.36 217.50C40.56 216.17 43.17 211.65 44.37 209.90C45.57 208.15 48.18 204.51 49.38 202.90C50.58 201.29 53.19 197.87 54.39 196.50C55.59 195.13 58.20 192.56 59.40 191.50C60.60 190.44 63.21 188.56 64.41 187.70C65.61 186.84 68.22 185.16 69.42 184.30C70.62 183.44 73.23 181.20 74.43 180.50C75.63 179.80 78.24 179.08 79.44 178.50C80.64 177.92 83.25 176.24 84.45 175.70C85.65 175.16 88.26 174.42 89.46 174.00C90.66 173.58 93.27 172.42 94.47 172.20C95.67 171.98 98.28 172.10 99.48 172.20C100.68 172.30 103.29 172.71 104.49 173.00C105.69 173.29 108.30 174.25 109.50 174.60C110.70 174.95 113.31 175.52 114.51 175.90C115.71 176.28 118.32 177.34 119.52 177.80C120.72 178.26 123.33 179.12 124.53 179.70C125.73 180.28 128.34 181.83 129.54 182.60C130.74 183.37 133.35 185.26 134.55 186.10C135.75 186.94 138.36 188.76 139.56 189.60C140.76 190.44 143.37 192.21 144.57 193.10C145.77 193.99 148.38 196.03 149.58 197.00C150.78 197.97 153.39 200.23 154.59 201.20C155.79 202.17 158.40 204.12 159.60 205.10C160.80 206.08 163.41 208.38 164.61 209.40C165.81 210.42 168.42 212.59 169.62 213.60C170.82 214.61 173.43 216.92 174.63 217.80C175.83 218.68 179.04 220.53 179.64 220.90" fill="none" stroke="#a6a6a6" stroke-width="1.65" stroke-linejoin="round" stroke-linecap="round"/>
<circle cx="34.35" cy="221.00" r="2.0" fill="#a6a6a6"/>
<circle cx="39.36" cy="217.50" r="2.0" fill="#a6a6a6"/>
<circle cx="44.37" cy="209.90" r="2.0" fill="#a6a6a6"/>
<circle cx="49.38" cy="202.90" r="2.0" fill="#a6a6a6"/>
<circle cx="54.39" cy="196.50" r="2.0" fill="#a6a6a6"/>
<circle cx="59.40" cy="191.50" r="2.0" fill="#a6a6a6"/>
<circle cx="64.41" cy="187.70" r="2.0" fill="#a6a6a6"/>
<circle cx="69.42" cy="184.30" r="2.0" fill="#a6a6a6"/>
<circle cx="74.43" cy="180.50" r="2.0" fill="#a6a6a6"/>
<circle cx="79.44" cy="178.50" r="2.0" fill="#a6a6a6"/>
<circle cx="84.45" cy="175.70" r="2.0" fill="#a6a6a6"/>
<circle cx="89.46" cy="174.00" r="2.0" fill="#a6a6a6"/>
<circle cx="94.47" cy="172.20" r="2.0" fill="#a6a6a6"/>
<circle cx="99.48" cy="172.20" r="2.0" fill="#a6a6a6"/>
<circle cx="104.49" cy="173.00" r="2.0" fill="#a6a6a6"/>
<circle cx="109.50" cy="174.60" r="2.0" fill="#a6a6a6"/>
<circle cx="114.51" cy="175.90" r="2.0" fill="#a6a6a6"/>
<circle cx="119.52" cy="177.80" r="2.0" fill="#a6a6a6"/>
<circle cx="124.53" cy="179.70" r="2.0" fill="#a6a6a6"/>
<circle cx="129.54" cy="182.60" r="2.0" fill="#a6a6a6"/>
<circle cx="134.55" cy="186.10" r="2.0" fill="#a6a6a6"/>
<circle cx="139.56" cy="189.60" r="2.0" fill="#a6a6a6"/>
<circle cx="144.57" cy="193.10" r="2.0" fill="#a6a6a6"/>
<circle cx="149.58" cy="197.00" r="2.0" fill="#a6a6a6"/>
<circle cx="154.59" cy="201.20" r="2.0" fill="#a6a6a6"/>
<circle cx="159.60" cy="205.10" r="2.0" fill="#a6a6a6"/>
<circle cx="164.61" cy="209.40" r="2.0" fill="#a6a6a6"/>
<circle cx="169.62" cy="213.60" r="2.0" fill="#a6a6a6"/>
<circle cx="174.63" cy="217.80" r="2.0" fill="#a6a6a6"/>
<circle cx="179.64" cy="220.90" r="2.0" fill="#a6a6a6"/></g>
<g><line x1="280.80" y1="137.80" x2="280.80" y2="221.30" class="g"/>
<line x1="310.62" y1="137.80" x2="310.62" y2="221.30" class="g"/>
<line x1="340.44" y1="137.80" x2="340.44" y2="221.30" class="g"/>
<line x1="370.26" y1="137.80" x2="370.26" y2="221.30" class="g"/>
<line x1="400.08" y1="137.80" x2="400.08" y2="221.30" class="g"/>
<line x1="429.90" y1="137.80" x2="429.90" y2="221.30" class="g"/>
<line x1="280.80" y1="137.80" x2="429.90" y2="137.80" class="g"/>
<line x1="280.80" y1="151.72" x2="429.90" y2="151.72" class="g"/>
<line x1="280.80" y1="165.63" x2="429.90" y2="165.63" class="g"/>
<line x1="280.80" y1="179.55" x2="429.90" y2="179.55" class="g"/>
<line x1="280.80" y1="193.47" x2="429.90" y2="193.47" class="g"/>
<line x1="280.80" y1="207.38" x2="429.90" y2="207.38" class="g"/>
<line x1="280.80" y1="221.30" x2="429.90" y2="221.30" class="g"/>
<line x1="429.90" y1="137.80" x2="429.90" y2="221.30" class="a"/>
<line x1="280.80" y1="221.30" x2="429.90" y2="221.30" class="a"/>
<line x1="429.90" y1="161.30" x2="432.60" y2="161.30" class="a"/>
<line x1="429.90" y1="191.30" x2="432.60" y2="191.30" class="a"/>
<line x1="429.90" y1="221.30" x2="432.60" y2="221.30" class="a"/>
<text transform="translate(272.60 140.70) rotate(0.04) scale(0.943 1)" class="t" text-anchor="end">26,4</text>
<text transform="translate(272.60 154.58) rotate(0.04) scale(0.943 1)" class="t" text-anchor="end">24,4</text>
<text transform="translate(272.60 168.47) rotate(0.04) scale(0.943 1)" class="t" text-anchor="end">22,4</text>
<text transform="translate(272.60 182.35) rotate(0.04) scale(0.943 1)" class="t" text-anchor="end">20,4</text>
<text transform="translate(272.60 196.23) rotate(0.04) scale(0.943 1)" class="t" text-anchor="end">18,4</text>
<text transform="translate(272.60 210.12) rotate(0.04) scale(0.943 1)" class="t" text-anchor="end">16,4</text>
<text transform="translate(272.60 224.00) rotate(0.04) scale(0.943 1)" class="t" text-anchor="end">14,4</text>
<text transform="translate(438.50 164.20) rotate(0.04) scale(0.943 1)" class="t">1</text>
<text transform="translate(438.50 194.20) rotate(0.04) scale(0.943 1)" class="t">0,5</text>
<text transform="translate(438.50 224.20) rotate(0.04) scale(0.943 1)" class="t">0</text>
<text transform="translate(280.80 236.85) rotate(0.04) scale(0.943 1)" class="t" text-anchor="middle">0</text>
<text transform="translate(310.62 236.85) rotate(0.04) scale(0.943 1)" class="t" text-anchor="middle">200</text>
<text transform="translate(340.44 236.85) rotate(0.04) scale(0.943 1)" class="t" text-anchor="middle">400</text>
<text transform="translate(370.26 236.85) rotate(0.04) scale(0.943 1)" class="t" text-anchor="middle">600</text>
<text transform="translate(400.08 236.85) rotate(0.04) scale(0.943 1)" class="t" text-anchor="middle">800</text>
<text transform="translate(429.90 236.85) rotate(0.04) scale(0.943 1)" class="t" text-anchor="middle">1000</text>
<text transform="translate(249.10 180.40) rotate(-89.96)" class="b" text-anchor="middle" textLength="58.2" lengthAdjust="spacingAndGlyphs">ICP (mmHg)</text>
<text transform="translate(464.60 180.40) rotate(-89.96)" class="b" text-anchor="middle" textLength="46.5" lengthAdjust="spacingAndGlyphs">ΔICV (ml)</text>
<text transform="translate(354.80 253.30) rotate(0.04)" class="b" text-anchor="middle" textLength="48.6" lengthAdjust="spacingAndGlyphs">Time (ms)</text>
<path d="M280.80 220.70C281.36 218.77 284.38 211.22 285.44 204.60C286.56 197.64 288.98 170.26 290.09 162.70C291.20 155.14 293.62 140.95 294.74 141.60C295.85 142.25 298.27 162.00 299.38 168.10C300.49 174.20 302.91 190.36 304.03 192.40C305.14 194.44 307.74 188.43 308.67 185.10C309.78 181.12 312.20 163.35 313.31 159.20C314.34 155.39 316.85 149.68 317.96 150.50C319.07 151.32 321.49 162.62 322.61 166.00C323.72 169.38 326.14 178.45 327.25 178.70C328.36 178.95 330.78 170.02 331.89 168.10C333.01 166.18 335.43 162.34 336.54 162.70C337.65 163.06 340.07 169.12 341.19 171.10C342.30 173.08 344.72 178.35 345.83 179.20C346.94 180.05 349.36 178.43 350.48 178.20C351.59 177.97 354.01 177.10 355.12 177.30C356.23 177.50 358.65 178.92 359.76 179.90C360.88 180.88 363.30 184.38 364.41 185.50C365.52 186.62 367.94 188.67 369.06 189.20C370.17 189.73 372.59 189.14 373.70 189.90C374.81 190.66 377.23 194.26 378.35 195.50C379.46 196.74 381.88 199.52 382.99 200.20C384.10 200.88 386.52 200.74 387.63 201.20C388.75 201.66 391.17 203.28 392.28 204.00C393.39 204.72 395.81 206.59 396.93 207.20C398.04 207.81 400.46 208.75 401.57 209.10C402.68 209.45 405.10 209.56 406.22 210.10C407.33 210.64 409.75 212.71 410.86 213.60C411.97 214.49 414.95 217.03 415.50 217.50" fill="none" stroke="#000000" stroke-width="1.65" stroke-linejoin="round" stroke-linecap="round"/>
<circle cx="280.80" cy="220.70" r="2.0" fill="#000000"/>
<circle cx="285.44" cy="204.60" r="2.0" fill="#000000"/>
<circle cx="290.09" cy="162.70" r="2.0" fill="#000000"/>
<circle cx="294.74" cy="141.60" r="2.0" fill="#000000"/>
<circle cx="299.38" cy="168.10" r="2.0" fill="#000000"/>
<circle cx="304.03" cy="192.40" r="2.0" fill="#000000"/>
<circle cx="308.67" cy="185.10" r="2.0" fill="#000000"/>
<circle cx="313.31" cy="159.20" r="2.0" fill="#000000"/>
<circle cx="317.96" cy="150.50" r="2.0" fill="#000000"/>
<circle cx="322.61" cy="166.00" r="2.0" fill="#000000"/>
<circle cx="327.25" cy="178.70" r="2.0" fill="#000000"/>
<circle cx="331.89" cy="168.10" r="2.0" fill="#000000"/>
<circle cx="336.54" cy="162.70" r="2.0" fill="#000000"/>
<circle cx="341.19" cy="171.10" r="2.0" fill="#000000"/>
<circle cx="345.83" cy="179.20" r="2.0" fill="#000000"/>
<circle cx="350.48" cy="178.20" r="2.0" fill="#000000"/>
<circle cx="355.12" cy="177.30" r="2.0" fill="#000000"/>
<circle cx="359.76" cy="179.90" r="2.0" fill="#000000"/>
<circle cx="364.41" cy="185.50" r="2.0" fill="#000000"/>
<circle cx="369.06" cy="189.20" r="2.0" fill="#000000"/>
<circle cx="373.70" cy="189.90" r="2.0" fill="#000000"/>
<circle cx="378.35" cy="195.50" r="2.0" fill="#000000"/>
<circle cx="382.99" cy="200.20" r="2.0" fill="#000000"/>
<circle cx="387.63" cy="201.20" r="2.0" fill="#000000"/>
<circle cx="392.28" cy="204.00" r="2.0" fill="#000000"/>
<circle cx="396.93" cy="207.20" r="2.0" fill="#000000"/>
<circle cx="401.57" cy="209.10" r="2.0" fill="#000000"/>
<circle cx="406.22" cy="210.10" r="2.0" fill="#000000"/>
<circle cx="410.86" cy="213.60" r="2.0" fill="#000000"/>
<circle cx="415.50" cy="217.50" r="2.0" fill="#000000"/>
<path d="M280.80 221.10C281.36 220.76 284.33 219.54 285.44 218.30C286.56 217.06 288.98 212.94 290.09 210.80C291.20 208.66 293.62 203.27 294.74 200.50C295.85 197.73 298.27 190.34 299.38 187.70C300.49 185.06 302.91 180.65 304.03 178.50C305.14 176.35 307.56 171.18 308.67 169.80C309.78 168.42 312.20 167.29 313.31 167.00C314.43 166.71 316.85 167.18 317.96 167.40C319.07 167.62 321.49 168.26 322.61 168.80C323.72 169.34 326.14 171.06 327.25 171.90C328.36 172.74 330.78 174.90 331.89 175.80C333.01 176.70 335.43 178.73 336.54 179.40C337.65 180.07 340.07 180.93 341.19 181.40C342.30 181.87 344.72 183.07 345.83 183.30C346.94 183.53 349.36 183.18 350.48 183.30C351.59 183.42 354.01 184.05 355.12 184.30C356.23 184.55 358.65 185.12 359.76 185.40C360.88 185.68 363.30 186.23 364.41 186.60C365.52 186.97 367.94 187.94 369.06 188.50C370.17 189.06 372.59 190.57 373.70 191.30C374.81 192.03 377.23 193.78 378.35 194.60C379.46 195.42 381.88 197.26 382.99 198.10C384.10 198.94 386.52 200.68 387.63 201.60C388.75 202.52 391.17 204.78 392.28 205.80C393.39 206.82 395.81 209.12 396.93 210.10C398.04 211.08 400.46 213.20 401.57 214.00C402.68 214.80 405.10 216.18 406.22 216.80C407.33 217.42 409.75 218.71 410.86 219.20C411.97 219.69 414.95 220.70 415.50 220.90" fill="none" stroke="#a6a6a6" stroke-width="1.65" stroke-linejoin="round" stroke-linecap="round"/>
<circle cx="280.80" cy="221.10" r="2.0" fill="#a6a6a6"/>
<circle cx="285.44" cy="218.30" r="2.0" fill="#a6a6a6"/>
<circle cx="290.09" cy="210.80" r="2.0" fill="#a6a6a6"/>
<circle cx="294.74" cy="200.50" r="2.0" fill="#a6a6a6"/>
<circle cx="299.38" cy="187.70" r="2.0" fill="#a6a6a6"/>
<circle cx="304.03" cy="178.50" r="2.0" fill="#a6a6a6"/>
<circle cx="308.67" cy="169.80" r="2.0" fill="#a6a6a6"/>
<circle cx="313.31" cy="167.00" r="2.0" fill="#a6a6a6"/>
<circle cx="317.96" cy="167.40" r="2.0" fill="#a6a6a6"/>
<circle cx="322.61" cy="168.80" r="2.0" fill="#a6a6a6"/>
<circle cx="327.25" cy="171.90" r="2.0" fill="#a6a6a6"/>
<circle cx="331.89" cy="175.80" r="2.0" fill="#a6a6a6"/>
<circle cx="336.54" cy="179.40" r="2.0" fill="#a6a6a6"/>
<circle cx="341.19" cy="181.40" r="2.0" fill="#a6a6a6"/>
<circle cx="345.83" cy="183.30" r="2.0" fill="#a6a6a6"/>
<circle cx="350.48" cy="183.30" r="2.0" fill="#a6a6a6"/>
<circle cx="355.12" cy="184.30" r="2.0" fill="#a6a6a6"/>
<circle cx="359.76" cy="185.40" r="2.0" fill="#a6a6a6"/>
<circle cx="364.41" cy="186.60" r="2.0" fill="#a6a6a6"/>
<circle cx="369.06" cy="188.50" r="2.0" fill="#a6a6a6"/>
<circle cx="373.70" cy="191.30" r="2.0" fill="#a6a6a6"/>
<circle cx="378.35" cy="194.60" r="2.0" fill="#a6a6a6"/>
<circle cx="382.99" cy="198.10" r="2.0" fill="#a6a6a6"/>
<circle cx="387.63" cy="201.60" r="2.0" fill="#a6a6a6"/>
<circle cx="392.28" cy="205.80" r="2.0" fill="#a6a6a6"/>
<circle cx="396.93" cy="210.10" r="2.0" fill="#a6a6a6"/>
<circle cx="401.57" cy="214.00" r="2.0" fill="#a6a6a6"/>
<circle cx="406.22" cy="216.80" r="2.0" fill="#a6a6a6"/>
<circle cx="410.86" cy="219.20" r="2.0" fill="#a6a6a6"/>
<circle cx="415.50" cy="220.90" r="2.0" fill="#a6a6a6"/></g>
<g><line x1="520.35" y1="137.80" x2="520.35" y2="221.40" class="g"/>
<line x1="549.20" y1="137.80" x2="549.20" y2="221.40" class="g"/>
<line x1="578.05" y1="137.80" x2="578.05" y2="221.40" class="g"/>
<line x1="606.90" y1="137.80" x2="606.90" y2="221.40" class="g"/>
<line x1="635.75" y1="137.80" x2="635.75" y2="221.40" class="g"/>
<line x1="664.60" y1="137.80" x2="664.60" y2="221.40" class="g"/>
<line x1="520.35" y1="144.90" x2="664.60" y2="144.90" class="g"/>
<line x1="520.35" y1="160.20" x2="664.60" y2="160.20" class="g"/>
<line x1="520.35" y1="175.50" x2="664.60" y2="175.50" class="g"/>
<line x1="520.35" y1="190.80" x2="664.60" y2="190.80" class="g"/>
<line x1="520.35" y1="206.10" x2="664.60" y2="206.10" class="g"/>
<line x1="520.35" y1="221.40" x2="664.60" y2="221.40" class="g"/>
<line x1="664.60" y1="137.80" x2="664.60" y2="221.40" class="a"/>
<line x1="520.35" y1="221.40" x2="664.60" y2="221.40" class="a"/>
<line x1="664.60" y1="144.00" x2="667.30" y2="144.00" class="a"/>
<line x1="664.60" y1="169.80" x2="667.30" y2="169.80" class="a"/>
<line x1="664.60" y1="195.70" x2="667.30" y2="195.70" class="a"/>
<line x1="664.60" y1="221.40" x2="667.30" y2="221.40" class="a"/>
<text transform="translate(512.20 147.20) rotate(0.04) scale(0.943 1)" class="t" text-anchor="end">26,9</text>
<text transform="translate(512.20 162.50) rotate(0.04) scale(0.943 1)" class="t" text-anchor="end">24,9</text>
<text transform="translate(512.20 177.80) rotate(0.04) scale(0.943 1)" class="t" text-anchor="end">22,9</text>
<text transform="translate(512.20 193.10) rotate(0.04) scale(0.943 1)" class="t" text-anchor="end">20,9</text>
<text transform="translate(512.20 208.40) rotate(0.04) scale(0.943 1)" class="t" text-anchor="end">18,9</text>
<text transform="translate(512.20 223.70) rotate(0.04) scale(0.943 1)" class="t" text-anchor="end">16,9</text>
<text transform="translate(672.80 146.30) rotate(0.04) scale(0.943 1)" class="t">0,6</text>
<text transform="translate(672.80 172.10) rotate(0.04) scale(0.943 1)" class="t">0,4</text>
<text transform="translate(672.80 198.00) rotate(0.04) scale(0.943 1)" class="t">0,2</text>
<text transform="translate(672.80 223.70) rotate(0.04) scale(0.943 1)" class="t">0</text>
<text transform="translate(520.35 236.85) rotate(0.04) scale(0.943 1)" class="t" text-anchor="middle">0</text>
<text transform="translate(549.20 236.85) rotate(0.04) scale(0.943 1)" class="t" text-anchor="middle">200</text>
<text transform="translate(578.05 236.85) rotate(0.04) scale(0.943 1)" class="t" text-anchor="middle">400</text>
<text transform="translate(606.90 236.85) rotate(0.04) scale(0.943 1)" class="t" text-anchor="middle">600</text>
<text transform="translate(635.75 236.85) rotate(0.04) scale(0.943 1)" class="t" text-anchor="middle">800</text>
<text transform="translate(664.60 236.85) rotate(0.04) scale(0.943 1)" class="t" text-anchor="middle">1000</text>
<text transform="translate(488.80 180.60) rotate(-89.96)" class="b" text-anchor="middle" textLength="58.2" lengthAdjust="spacingAndGlyphs">ICP (mmHg)</text>
<text transform="translate(704.80 180.40) rotate(-89.96)" class="b" text-anchor="middle" textLength="46.5" lengthAdjust="spacingAndGlyphs">ΔICV (ml)</text>
<text transform="translate(592.20 253.30) rotate(0.04)" class="b" text-anchor="middle" textLength="48.6" lengthAdjust="spacingAndGlyphs">Time (ms)</text>
<path d="M520.35 221.00C520.83 220.17 523.53 217.18 524.39 214.10C525.35 210.62 527.45 199.18 528.42 192.00C529.39 184.82 531.49 159.63 532.46 154.30C533.02 151.22 535.53 145.19 536.49 147.60C537.46 150.01 539.56 169.14 540.53 174.40C541.50 179.66 543.60 190.63 544.57 191.40C545.53 192.17 547.63 184.62 548.60 180.80C549.57 176.98 551.67 163.75 552.64 159.60C553.61 155.45 555.71 146.24 556.67 146.20C557.64 146.16 559.74 155.33 560.71 159.30C561.68 163.27 563.78 177.06 564.75 179.30C565.42 180.86 568.09 179.55 568.78 178.00C569.75 175.84 571.85 163.56 572.82 161.30C573.54 159.63 575.89 157.84 576.85 159.20C577.82 160.56 579.92 170.04 580.89 172.60C581.86 175.16 583.96 179.37 584.93 180.50C585.89 181.63 587.99 182.18 588.96 182.00C589.93 181.82 592.03 179.10 593.00 179.00C593.97 178.90 596.07 180.36 597.03 181.20C598.00 182.04 600.10 184.55 601.07 186.00C602.04 187.45 604.14 192.12 605.11 193.30C606.07 194.48 608.17 195.15 609.14 195.80C610.11 196.45 612.21 198.05 613.18 198.70C614.15 199.35 616.25 200.64 617.21 201.20C618.18 201.76 620.28 202.79 621.25 203.40C622.22 204.01 624.32 205.75 625.29 206.30C626.25 206.85 628.35 207.12 629.32 208.00C630.29 208.88 632.39 212.51 633.36 213.60C634.33 214.69 636.91 216.68 637.39 217.10" fill="none" stroke="#000000" stroke-width="1.65" stroke-linejoin="round" stroke-linecap="round"/>
<circle cx="520.35" cy="221.00" r="2.0" fill="#000000"/>
<circle cx="524.39" cy="214.10" r="2.0" fill="#000000"/>
<circle cx="528.42" cy="192.00" r="2.0" fill="#000000"/>
<circle cx="532.46" cy="154.30" r="2.0" fill="#000000"/>
<circle cx="536.49" cy="147.60" r="2.0" fill="#000000"/>
<circle cx="540.53" cy="174.40" r="2.0" fill="#000000"/>
<circle cx="544.57" cy="191.40" r="2.0" fill="#000000"/>
<circle cx="548.60" cy="180.80" r="2.0" fill="#000000"/>
<circle cx="552.64" cy="159.60" r="2.0" fill="#000000"/>
<circle cx="556.67" cy="146.20" r="2.0" fill="#000000"/>
<circle cx="560.71" cy="159.30" r="2.0" fill="#000000"/>
<circle cx="564.75" cy="179.30" r="2.0" fill="#000000"/>
<circle cx="568.78" cy="178.00" r="2.0" fill="#000000"/>
<circle cx="572.82" cy="161.30" r="2.0" fill="#000000"/>
<circle cx="576.85" cy="159.20" r="2.0" fill="#000000"/>
<circle cx="580.89" cy="172.60" r="2.0" fill="#000000"/>
<circle cx="584.93" cy="180.50" r="2.0" fill="#000000"/>
<circle cx="588.96" cy="182.00" r="2.0" fill="#000000"/>
<circle cx="593.00" cy="179.00" r="2.0" fill="#000000"/>
<circle cx="597.03" cy="181.20" r="2.0" fill="#000000"/>
<circle cx="601.07" cy="186.00" r="2.0" fill="#000000"/>
<circle cx="605.11" cy="193.30" r="2.0" fill="#000000"/>
<circle cx="609.14" cy="195.80" r="2.0" fill="#000000"/>
<circle cx="613.18" cy="198.70" r="2.0" fill="#000000"/>
<circle cx="617.21" cy="201.20" r="2.0" fill="#000000"/>
<circle cx="621.25" cy="203.40" r="2.0" fill="#000000"/>
<circle cx="625.29" cy="206.30" r="2.0" fill="#000000"/>
<circle cx="629.32" cy="208.00" r="2.0" fill="#000000"/>
<circle cx="633.36" cy="213.60" r="2.0" fill="#000000"/>
<circle cx="637.39" cy="217.10" r="2.0" fill="#000000"/>
<path d="M520.35 221.10C520.83 220.84 523.42 220.24 524.39 218.90C525.35 217.56 527.45 212.55 528.42 209.90C529.39 207.25 531.49 199.98 532.46 196.80C533.43 193.62 535.53 186.27 536.49 183.40C537.46 180.53 539.56 175.25 540.53 172.90C541.50 170.55 543.60 165.43 544.57 163.80C545.53 162.17 547.63 159.89 548.60 159.30C549.57 158.71 551.67 158.98 552.64 158.90C553.61 158.82 555.71 158.18 556.67 158.60C557.64 159.02 559.74 161.34 560.71 162.40C561.68 163.46 563.78 166.30 564.75 167.40C565.71 168.50 567.81 170.68 568.78 171.60C569.75 172.52 571.85 174.33 572.82 175.10C573.79 175.87 575.89 177.40 576.85 178.00C577.82 178.60 579.92 179.69 580.89 180.10C581.86 180.51 583.96 181.17 584.93 181.40C585.89 181.63 587.99 181.88 588.96 182.00C589.93 182.12 592.03 182.15 593.00 182.40C593.97 182.65 596.07 183.55 597.03 184.10C598.00 184.65 600.10 186.26 601.07 187.00C602.04 187.74 604.14 189.46 605.11 190.30C606.07 191.14 608.17 193.21 609.14 194.00C610.11 194.79 612.21 196.07 613.18 196.90C614.15 197.73 616.25 199.92 617.21 200.90C618.18 201.88 620.28 204.12 621.25 205.10C622.22 206.08 624.32 208.12 625.29 209.10C626.25 210.08 628.35 212.29 629.32 213.30C630.29 214.31 632.39 216.59 633.36 217.50C634.33 218.41 636.91 220.49 637.39 220.90" fill="none" stroke="#a6a6a6" stroke-width="1.65" stroke-linejoin="round" stroke-linecap="round"/>
<circle cx="520.35" cy="221.10" r="2.0" fill="#a6a6a6"/>
<circle cx="524.39" cy="218.90" r="2.0" fill="#a6a6a6"/>
<circle cx="528.42" cy="209.90" r="2.0" fill="#a6a6a6"/>
<circle cx="532.46" cy="196.80" r="2.0" fill="#a6a6a6"/>
<circle cx="536.49" cy="183.40" r="2.0" fill="#a6a6a6"/>
<circle cx="540.53" cy="172.90" r="2.0" fill="#a6a6a6"/>
<circle cx="544.57" cy="163.80" r="2.0" fill="#a6a6a6"/>
<circle cx="548.60" cy="159.30" r="2.0" fill="#a6a6a6"/>
<circle cx="552.64" cy="158.90" r="2.0" fill="#a6a6a6"/>
<circle cx="556.67" cy="158.60" r="2.0" fill="#a6a6a6"/>
<circle cx="560.71" cy="162.40" r="2.0" fill="#a6a6a6"/>
<circle cx="564.75" cy="167.40" r="2.0" fill="#a6a6a6"/>
<circle cx="568.78" cy="171.60" r="2.0" fill="#a6a6a6"/>
<circle cx="572.82" cy="175.10" r="2.0" fill="#a6a6a6"/>
<circle cx="576.85" cy="178.00" r="2.0" fill="#a6a6a6"/>
<circle cx="580.89" cy="180.10" r="2.0" fill="#a6a6a6"/>
<circle cx="584.93" cy="181.40" r="2.0" fill="#a6a6a6"/>
<circle cx="588.96" cy="182.00" r="2.0" fill="#a6a6a6"/>
<circle cx="593.00" cy="182.40" r="2.0" fill="#a6a6a6"/>
<circle cx="597.03" cy="184.10" r="2.0" fill="#a6a6a6"/>
<circle cx="601.07" cy="187.00" r="2.0" fill="#a6a6a6"/>
<circle cx="605.11" cy="190.30" r="2.0" fill="#a6a6a6"/>
<circle cx="609.14" cy="194.00" r="2.0" fill="#a6a6a6"/>
<circle cx="613.18" cy="196.90" r="2.0" fill="#a6a6a6"/>
<circle cx="617.21" cy="200.90" r="2.0" fill="#a6a6a6"/>
<circle cx="621.25" cy="205.10" r="2.0" fill="#a6a6a6"/>
<circle cx="625.29" cy="209.10" r="2.0" fill="#a6a6a6"/>
<circle cx="629.32" cy="213.30" r="2.0" fill="#a6a6a6"/>
<circle cx="633.36" cy="217.50" r="2.0" fill="#a6a6a6"/>
<circle cx="637.39" cy="220.90" r="2.0" fill="#a6a6a6"/></g>
<g><line x1="41.90" y1="270.80" x2="41.90" y2="354.90" class="g"/>
<line x1="102.10" y1="270.80" x2="102.10" y2="354.90" class="g"/>
<line x1="161.90" y1="270.80" x2="161.90" y2="354.90" class="g"/>
<line x1="186.10" y1="270.80" x2="186.10" y2="354.90" class="g"/>
<line x1="41.90" y1="283.00" x2="186.10" y2="283.00" class="g"/>
<line x1="41.90" y1="306.97" x2="186.10" y2="306.97" class="g"/>
<line x1="41.90" y1="330.93" x2="186.10" y2="330.93" class="g"/>
<line x1="41.90" y1="354.90" x2="186.10" y2="354.90" class="g"/>
<line x1="186.10" y1="270.80" x2="186.10" y2="354.90" class="a"/>
<line x1="41.90" y1="354.90" x2="186.10" y2="354.90" class="a"/>
<line x1="186.10" y1="283.00" x2="188.80" y2="283.00" class="a"/>
<line x1="186.10" y1="306.97" x2="188.80" y2="306.97" class="a"/>
<line x1="186.10" y1="330.93" x2="188.80" y2="330.93" class="a"/>
<line x1="186.10" y1="354.90" x2="188.80" y2="354.90" class="a"/>
<text transform="translate(33.40 285.30) rotate(0.04) scale(0.943 1)" class="t" text-anchor="end">16,1</text>
<text transform="translate(33.40 309.27) rotate(0.04) scale(0.943 1)" class="t" text-anchor="end">14,1</text>
<text transform="translate(33.40 333.23) rotate(0.04) scale(0.943 1)" class="t" text-anchor="end">12,1</text>
<text transform="translate(33.40 357.20) rotate(0.04) scale(0.943 1)" class="t" text-anchor="end">10,1</text>
<text transform="translate(194.60 285.30) rotate(0.04) scale(0.943 1)" class="t">0,3</text>
<text transform="translate(194.60 309.27) rotate(0.04) scale(0.943 1)" class="t">0,2</text>
<text transform="translate(194.60 333.23) rotate(0.04) scale(0.943 1)" class="t">0,1</text>
<text transform="translate(194.60 357.20) rotate(0.04) scale(0.943 1)" class="t">0</text>
<text transform="translate(41.90 370.05) rotate(0.04) scale(0.943 1)" class="t" text-anchor="middle">0</text>
<text transform="translate(102.10 370.05) rotate(0.04) scale(0.943 1)" class="t" text-anchor="middle">500</text>
<text transform="translate(161.80 370.05) rotate(0.04) scale(0.943 1)" class="t" text-anchor="middle">1000</text>
<text transform="translate(10.25 313.50) rotate(-89.96)" class="b" text-anchor="middle" textLength="58.2" lengthAdjust="spacingAndGlyphs">ICP (mmHg)</text>
<text transform="translate(226.00 313.40) rotate(-89.96)" class="b" text-anchor="middle" textLength="46.5" lengthAdjust="spacingAndGlyphs">ΔICV (ml)</text>
<text transform="translate(113.80 386.40) rotate(0.04)" class="b" text-anchor="middle" textLength="48.6" lengthAdjust="spacingAndGlyphs">Time (ms)</text>
<path d="M41.90 354.40C42.42 351.60 45.21 338.84 46.25 331.10C47.29 323.36 49.56 295.65 50.60 289.90C51.17 286.76 53.91 280.33 54.95 283.20C55.99 286.07 58.26 308.38 59.30 313.80C60.34 319.22 62.61 328.99 63.65 328.40C64.69 327.81 66.96 313.18 68.00 308.90C69.04 304.62 71.31 293.04 72.35 292.70C73.39 292.36 75.66 301.82 76.70 306.10C77.74 310.38 80.01 327.02 81.05 328.40C82.09 329.78 84.36 321.26 85.40 317.60C86.44 313.94 88.71 299.06 89.75 297.90C90.79 296.74 93.06 305.31 94.10 307.90C95.14 310.49 97.41 318.50 98.45 319.50C99.49 320.50 101.76 317.23 102.80 316.20C103.84 315.17 106.11 311.01 107.15 310.90C108.19 310.79 110.46 314.02 111.50 315.30C112.54 316.58 114.81 320.46 115.85 321.60C116.89 322.74 119.16 324.43 120.20 324.80C121.24 325.17 123.51 324.42 124.55 324.70C125.59 324.98 127.86 326.21 128.90 327.10C129.94 327.99 132.21 331.14 133.25 332.10C134.29 333.06 136.56 334.66 137.60 335.10C138.64 335.54 140.91 335.72 141.95 335.80C142.99 335.88 145.26 335.74 146.30 335.80C147.34 335.86 149.61 336.22 150.65 336.30C151.69 336.38 153.96 336.13 155.00 336.50C156.04 336.87 158.31 338.58 159.35 339.40C160.39 340.22 162.66 342.29 163.70 343.30C164.74 344.31 167.53 347.26 168.05 347.80" fill="none" stroke="#000000" stroke-width="1.65" stroke-linejoin="round" stroke-linecap="round"/>
<circle cx="41.90" cy="354.40" r="2.0" fill="#000000"/>
<circle cx="46.25" cy="331.10" r="2.0" fill="#000000"/>
<circle cx="50.60" cy="289.90" r="2.0" fill="#000000"/>
<circle cx="54.95" cy="283.20" r="2.0" fill="#000000"/>
<circle cx="59.30" cy="313.80" r="2.0" fill="#000000"/>
<circle cx="63.65" cy="328.40" r="2.0" fill="#000000"/>
<circle cx="68.00" cy="308.90" r="2.0" fill="#000000"/>
<circle cx="72.35" cy="292.70" r="2.0" fill="#000000"/>
<circle cx="76.70" cy="306.10" r="2.0" fill="#000000"/>
<circle cx="81.05" cy="328.40" r="2.0" fill="#000000"/>
<circle cx="85.40" cy="317.60" r="2.0" fill="#000000"/>
<circle cx="89.75" cy="297.90" r="2.0" fill="#000000"/>
<circle cx="94.10" cy="307.90" r="2.0" fill="#000000"/>
<circle cx="98.45" cy="319.50" r="2.0" fill="#000000"/>
<circle cx="102.80" cy="316.20" r="2.0" fill="#000000"/>
<circle cx="107.15" cy="310.90" r="2.0" fill="#000000"/>
<circle cx="111.50" cy="315.30" r="2.0" fill="#000000"/>
<circle cx="115.85" cy="321.60" r="2.0" fill="#000000"/>
<circle cx="120.20" cy="324.80" r="2.0" fill="#000000"/>
<circle cx="124.55" cy="324.70" r="2.0" fill="#000000"/>
<circle cx="128.90" cy="327.10" r="2.0" fill="#000000"/>
<circle cx="133.25" cy="332.10" r="2.0" fill="#000000"/>
<circle cx="137.60" cy="335.10" r="2.0" fill="#000000"/>
<circle cx="141.95" cy="335.80" r="2.0" fill="#000000"/>
<circle cx="146.30" cy="335.80" r="2.0" fill="#000000"/>
<circle cx="150.65" cy="336.30" r="2.0" fill="#000000"/>
<circle cx="155.00" cy="336.50" r="2.0" fill="#000000"/>
<circle cx="159.35" cy="339.40" r="2.0" fill="#000000"/>
<circle cx="163.70" cy="343.30" r="2.0" fill="#000000"/>
<circle cx="168.05" cy="347.80" r="2.0" fill="#000000"/>
<path d="M41.90 354.60C42.42 354.11 45.21 352.59 46.25 350.50C47.29 348.41 49.56 340.25 50.60 337.20C51.64 334.15 53.91 327.45 54.95 325.10C55.99 322.75 58.26 318.52 59.30 317.60C60.34 316.68 62.61 317.34 63.65 317.40C64.69 317.46 66.96 317.68 68.00 318.10C69.04 318.52 71.31 320.40 72.35 320.90C73.39 321.40 75.66 322.01 76.70 322.30C77.74 322.59 80.01 323.30 81.05 323.30C82.09 323.30 84.36 322.64 85.40 322.30C86.44 321.96 88.71 321.00 89.75 320.50C90.79 320.00 93.06 318.74 94.10 318.10C95.14 317.46 97.41 315.82 98.45 315.20C99.49 314.58 101.76 313.33 102.80 312.90C103.84 312.47 106.11 311.62 107.15 311.60C108.19 311.58 110.46 312.42 111.50 312.70C112.54 312.98 114.81 313.44 115.85 313.90C116.89 314.36 119.16 315.86 120.20 316.50C121.24 317.14 123.51 318.56 124.55 319.20C125.59 319.84 127.86 321.16 128.90 321.80C129.94 322.44 132.21 323.95 133.25 324.50C134.29 325.05 136.56 326.05 137.60 326.40C138.64 326.75 140.91 327.32 141.95 327.40C142.99 327.48 145.26 327.22 146.30 327.10C147.34 326.98 149.61 326.41 150.65 326.40C151.69 326.39 153.96 326.33 155.00 327.00C156.04 327.67 158.31 330.26 159.35 332.00C160.39 333.74 162.66 339.00 163.70 341.50C164.74 344.00 167.53 351.44 168.05 352.80" fill="none" stroke="#a6a6a6" stroke-width="1.65" stroke-linejoin="round" stroke-linecap="round"/>
<circle cx="41.90" cy="354.60" r="2.0" fill="#a6a6a6"/>
<circle cx="46.25" cy="350.50" r="2.0" fill="#a6a6a6"/>
<circle cx="50.60" cy="337.20" r="2.0" fill="#a6a6a6"/>
<circle cx="54.95" cy="325.10" r="2.0" fill="#a6a6a6"/>
<circle cx="59.30" cy="317.60" r="2.0" fill="#a6a6a6"/>
<circle cx="63.65" cy="317.40" r="2.0" fill="#a6a6a6"/>
<circle cx="68.00" cy="318.10" r="2.0" fill="#a6a6a6"/>
<circle cx="72.35" cy="320.90" r="2.0" fill="#a6a6a6"/>
<circle cx="76.70" cy="322.30" r="2.0" fill="#a6a6a6"/>
<circle cx="81.05" cy="323.30" r="2.0" fill="#a6a6a6"/>
<circle cx="85.40" cy="322.30" r="2.0" fill="#a6a6a6"/>
<circle cx="89.75" cy="320.50" r="2.0" fill="#a6a6a6"/>
<circle cx="94.10" cy="318.10" r="2.0" fill="#a6a6a6"/>
<circle cx="98.45" cy="315.20" r="2.0" fill="#a6a6a6"/>
<circle cx="102.80" cy="312.90" r="2.0" fill="#a6a6a6"/>
<circle cx="107.15" cy="311.60" r="2.0" fill="#a6a6a6"/>
<circle cx="111.50" cy="312.70" r="2.0" fill="#a6a6a6"/>
<circle cx="115.85" cy="313.90" r="2.0" fill="#a6a6a6"/>
<circle cx="120.20" cy="316.50" r="2.0" fill="#a6a6a6"/>
<circle cx="124.55" cy="319.20" r="2.0" fill="#a6a6a6"/>
<circle cx="128.90" cy="321.80" r="2.0" fill="#a6a6a6"/>
<circle cx="133.25" cy="324.50" r="2.0" fill="#a6a6a6"/>
<circle cx="137.60" cy="326.40" r="2.0" fill="#a6a6a6"/>
<circle cx="141.95" cy="327.40" r="2.0" fill="#a6a6a6"/>
<circle cx="146.30" cy="327.10" r="2.0" fill="#a6a6a6"/>
<circle cx="150.65" cy="326.40" r="2.0" fill="#a6a6a6"/>
<circle cx="155.00" cy="327.00" r="2.0" fill="#a6a6a6"/>
<circle cx="159.35" cy="332.00" r="2.0" fill="#a6a6a6"/>
<circle cx="163.70" cy="341.50" r="2.0" fill="#a6a6a6"/>
<circle cx="168.05" cy="352.80" r="2.0" fill="#a6a6a6"/></g>
<g><line x1="275.90" y1="271.40" x2="275.90" y2="354.60" class="g"/>
<line x1="327.23" y1="271.40" x2="327.23" y2="354.60" class="g"/>
<line x1="378.57" y1="271.40" x2="378.57" y2="354.60" class="g"/>
<line x1="429.90" y1="271.40" x2="429.90" y2="354.60" class="g"/>
<line x1="275.90" y1="271.40" x2="429.90" y2="271.40" class="g"/>
<line x1="275.90" y1="285.27" x2="429.90" y2="285.27" class="g"/>
<line x1="275.90" y1="299.13" x2="429.90" y2="299.13" class="g"/>
<line x1="275.90" y1="313.00" x2="429.90" y2="313.00" class="g"/>
<line x1="275.90" y1="326.87" x2="429.90" y2="326.87" class="g"/>
<line x1="275.90" y1="340.73" x2="429.90" y2="340.73" class="g"/>
<line x1="275.90" y1="354.60" x2="429.90" y2="354.60" class="g"/>
<line x1="429.90" y1="271.40" x2="429.90" y2="354.60" class="a"/>
<line x1="275.90" y1="354.60" x2="429.90" y2="354.60" class="a"/>
<line x1="429.90" y1="294.80" x2="432.60" y2="294.80" class="a"/>
<line x1="429.90" y1="324.70" x2="432.60" y2="324.70" class="a"/>
<line x1="429.90" y1="354.70" x2="432.60" y2="354.70" class="a"/>
<text transform="translate(267.70 273.70) rotate(0.04) scale(0.943 1)" class="t" text-anchor="end">3</text>
<text transform="translate(267.70 287.57) rotate(0.04) scale(0.943 1)" class="t" text-anchor="end">2,5</text>
<text transform="translate(267.70 301.43) rotate(0.04) scale(0.943 1)" class="t" text-anchor="end">2</text>
<text transform="translate(267.70 315.30) rotate(0.04) scale(0.943 1)" class="t" text-anchor="end">1,5</text>
<text transform="translate(267.70 329.17) rotate(0.04) scale(0.943 1)" class="t" text-anchor="end">1</text>
<text transform="translate(267.70 343.03) rotate(0.04) scale(0.943 1)" class="t" text-anchor="end">0,5</text>
<text transform="translate(267.70 356.90) rotate(0.04) scale(0.943 1)" class="t" text-anchor="end">0</text>
<text transform="translate(438.50 297.10) rotate(0.04) scale(0.943 1)" class="t">1</text>
<text transform="translate(438.50 327.00) rotate(0.04) scale(0.943 1)" class="t">0,5</text>
<text transform="translate(438.50 357.00) rotate(0.04) scale(0.943 1)" class="t">0</text>
<text transform="translate(275.90 370.05) rotate(0.04) scale(0.943 1)" class="t" text-anchor="middle">0</text>
<text transform="translate(327.23 370.05) rotate(0.04) scale(0.943 1)" class="t" text-anchor="middle">200</text>
<text transform="translate(378.57 370.05) rotate(0.04) scale(0.943 1)" class="t" text-anchor="middle">400</text>
<text transform="translate(429.90 370.05) rotate(0.04) scale(0.943 1)" class="t" text-anchor="middle">600</text>
<text transform="translate(249.10 313.50) rotate(-89.96)" class="b" text-anchor="middle" textLength="58.2" lengthAdjust="spacingAndGlyphs">ICP (mmHg)</text>
<text transform="translate(464.60 313.40) rotate(-89.96)" class="b" text-anchor="middle" textLength="46.5" lengthAdjust="spacingAndGlyphs">ΔICV (ml)</text>
<text transform="translate(352.30 386.40) rotate(0.04)" class="b" text-anchor="middle" textLength="48.6" lengthAdjust="spacingAndGlyphs">Time (ms)</text>
<path d="M275.90 352.70C276.40 352.11 279.09 349.97 280.10 347.80C281.11 345.63 283.30 338.98 284.31 334.60C285.31 330.22 287.50 316.44 288.51 311.30C289.52 306.16 291.70 294.78 292.71 291.80C293.58 289.24 295.91 286.09 296.91 286.50C297.92 286.91 300.11 292.22 301.12 295.20C302.13 298.18 304.31 307.72 305.32 311.30C306.33 314.88 308.52 323.00 309.52 325.00C310.45 326.84 312.72 328.67 313.73 328.00C314.74 327.33 316.92 321.40 317.93 319.40C318.94 317.40 321.12 312.79 322.13 311.30C323.14 309.81 325.33 306.94 326.34 307.00C327.34 307.06 329.53 309.59 330.54 311.80C331.55 314.01 333.73 321.81 334.74 325.40C335.75 328.99 337.94 338.76 338.94 341.70C339.95 344.64 342.14 349.30 343.15 349.90C344.16 350.50 346.34 348.46 347.35 346.70C348.36 344.94 350.55 337.92 351.55 335.20C352.56 332.48 354.75 325.78 355.76 324.00C356.77 322.22 358.95 320.36 359.96 320.40C360.97 320.44 363.15 322.67 364.16 324.30C365.17 325.93 367.36 331.65 368.37 334.00C369.37 336.35 371.56 341.87 372.57 343.90C373.58 345.93 375.76 349.83 376.77 350.90C377.78 351.97 379.97 353.26 380.97 352.80C381.98 352.34 384.17 348.29 385.18 347.10C386.19 345.91 388.37 343.66 389.38 342.90C390.39 342.14 392.58 340.85 393.58 340.80C394.59 340.75 396.78 342.08 397.79 342.50C398.80 342.92 400.98 343.66 401.99 344.30C403.00 344.94 405.18 347.13 406.19 347.80C407.20 348.47 409.39 349.42 410.40 349.90C411.40 350.38 413.59 351.45 414.60 351.80C415.61 352.15 418.30 352.68 418.80 352.80" fill="none" stroke="#000000" stroke-width="1.65" stroke-linejoin="round" stroke-linecap="round"/>
<circle cx="275.90" cy="352.70" r="2.0" fill="#000000"/>
<circle cx="280.10" cy="347.80" r="2.0" fill="#000000"/>
<circle cx="284.31" cy="334.60" r="2.0" fill="#000000"/>
<circle cx="288.51" cy="311.30" r="2.0" fill="#000000"/>
<circle cx="292.71" cy="291.80" r="2.0" fill="#000000"/>
<circle cx="296.91" cy="286.50" r="2.0" fill="#000000"/>
<circle cx="301.12" cy="295.20" r="2.0" fill="#000000"/>
<circle cx="305.32" cy="311.30" r="2.0" fill="#000000"/>
<circle cx="309.52" cy="325.00" r="2.0" fill="#000000"/>
<circle cx="313.73" cy="328.00" r="2.0" fill="#000000"/>
<circle cx="317.93" cy="319.40" r="2.0" fill="#000000"/>
<circle cx="322.13" cy="311.30" r="2.0" fill="#000000"/>
<circle cx="326.34" cy="307.00" r="2.0" fill="#000000"/>
<circle cx="330.54" cy="311.80" r="2.0" fill="#000000"/>
<circle cx="334.74" cy="325.40" r="2.0" fill="#000000"/>
<circle cx="338.94" cy="341.70" r="2.0" fill="#000000"/>
<circle cx="343.15" cy="349.90" r="2.0" fill="#000000"/>
<circle cx="347.35" cy="346.70" r="2.0" fill="#000000"/>
<circle cx="351.55" cy="335.20" r="2.0" fill="#000000"/>
<circle cx="355.76" cy="324.00" r="2.0" fill="#000000"/>
<circle cx="359.96" cy="320.40" r="2.0" fill="#000000"/>
<circle cx="364.16" cy="324.30" r="2.0" fill="#000000"/>
<circle cx="368.37" cy="334.00" r="2.0" fill="#000000"/>
<circle cx="372.57" cy="343.90" r="2.0" fill="#000000"/>
<circle cx="376.77" cy="350.90" r="2.0" fill="#000000"/>
<circle cx="380.97" cy="352.80" r="2.0" fill="#000000"/>
<circle cx="385.18" cy="347.10" r="2.0" fill="#000000"/>
<circle cx="389.38" cy="342.90" r="2.0" fill="#000000"/>
<circle cx="393.58" cy="340.80" r="2.0" fill="#000000"/>
<circle cx="397.79" cy="342.50" r="2.0" fill="#000000"/>
<circle cx="401.99" cy="344.30" r="2.0" fill="#000000"/>
<circle cx="406.19" cy="347.80" r="2.0" fill="#000000"/>
<circle cx="410.40" cy="349.90" r="2.0" fill="#000000"/>
<circle cx="414.60" cy="351.80" r="2.0" fill="#000000"/>
<circle cx="418.80" cy="352.80" r="2.0" fill="#000000"/>
<path d="M275.90 354.40C276.40 353.98 279.09 352.09 280.10 350.90C281.11 349.71 283.30 346.37 284.31 344.50C285.31 342.63 287.50 337.32 288.51 335.30C289.52 333.28 291.70 329.02 292.71 327.70C293.72 326.38 295.91 324.83 296.91 324.30C297.92 323.77 300.11 323.50 301.12 323.30C302.13 323.10 304.31 322.77 305.32 322.60C306.33 322.43 308.52 322.19 309.52 321.90C310.53 321.61 312.72 320.49 313.73 320.20C314.74 319.91 316.92 319.63 317.93 319.50C318.94 319.37 321.12 319.06 322.13 319.10C323.14 319.14 325.33 319.38 326.34 319.80C327.34 320.22 329.53 321.84 330.54 322.60C331.55 323.36 333.73 325.26 334.74 326.10C335.75 326.94 337.94 328.93 338.94 329.60C339.95 330.27 342.14 331.39 343.15 331.70C344.16 332.01 346.34 332.20 347.35 332.20C348.36 332.20 350.55 331.78 351.55 331.70C352.56 331.62 354.75 331.42 355.76 331.50C356.77 331.58 358.95 332.12 359.96 332.40C360.97 332.68 363.15 333.49 364.16 333.80C365.17 334.11 367.36 334.76 368.37 335.00C369.37 335.24 371.56 335.58 372.57 335.80C373.58 336.02 375.76 336.54 376.77 336.80C377.78 337.06 379.97 337.66 380.97 338.00C381.98 338.34 384.17 339.23 385.18 339.60C386.19 339.97 388.37 340.79 389.38 341.10C390.39 341.41 392.58 341.90 393.58 342.20C394.59 342.50 396.78 343.23 397.79 343.60C398.80 343.97 400.98 344.83 401.99 345.30C403.00 345.77 405.18 347.00 406.19 347.50C407.20 348.00 409.39 349.03 410.40 349.50C411.40 349.97 413.59 350.98 414.60 351.40C415.61 351.82 418.30 352.81 418.80 353.00" fill="none" stroke="#a6a6a6" stroke-width="1.65" stroke-linejoin="round" stroke-linecap="round"/>
<circle cx="275.90" cy="354.40" r="2.0" fill="#a6a6a6"/>
<circle cx="280.10" cy="350.90" r="2.0" fill="#a6a6a6"/>
<circle cx="284.31" cy="344.50" r="2.0" fill="#a6a6a6"/>
<circle cx="288.51" cy="335.30" r="2.0" fill="#a6a6a6"/>
<circle cx="292.71" cy="327.70" r="2.0" fill="#a6a6a6"/>
<circle cx="296.91" cy="324.30" r="2.0" fill="#a6a6a6"/>
<circle cx="301.12" cy="323.30" r="2.0" fill="#a6a6a6"/>
<circle cx="305.32" cy="322.60" r="2.0" fill="#a6a6a6"/>
<circle cx="309.52" cy="321.90" r="2.0" fill="#a6a6a6"/>
<circle cx="313.73" cy="320.20" r="2.0" fill="#a6a6a6"/>
<circle cx="317.93" cy="319.50" r="2.0" fill="#a6a6a6"/>
<circle cx="322.13" cy="319.10" r="2.0" fill="#a6a6a6"/>
<circle cx="326.34" cy="319.80" r="2.0" fill="#a6a6a6"/>
<circle cx="330.54" cy="322.60" r="2.0" fill="#a6a6a6"/>
<circle cx="334.74" cy="326.10" r="2.0" fill="#a6a6a6"/>
<circle cx="338.94" cy="329.60" r="2.0" fill="#a6a6a6"/>
<circle cx="343.15" cy="331.70" r="2.0" fill="#a6a6a6"/>
<circle cx="347.35" cy="332.20" r="2.0" fill="#a6a6a6"/>
<circle cx="351.55" cy="331.70" r="2.0" fill="#a6a6a6"/>
<circle cx="355.76" cy="331.50" r="2.0" fill="#a6a6a6"/>
<circle cx="359.96" cy="332.40" r="2.0" fill="#a6a6a6"/>
<circle cx="364.16" cy="333.80" r="2.0" fill="#a6a6a6"/>
<circle cx="368.37" cy="335.00" r="2.0" fill="#a6a6a6"/>
<circle cx="372.57" cy="335.80" r="2.0" fill="#a6a6a6"/>
<circle cx="376.77" cy="336.80" r="2.0" fill="#a6a6a6"/>
<circle cx="380.97" cy="338.00" r="2.0" fill="#a6a6a6"/>
<circle cx="385.18" cy="339.60" r="2.0" fill="#a6a6a6"/>
<circle cx="389.38" cy="341.10" r="2.0" fill="#a6a6a6"/>
<circle cx="393.58" cy="342.20" r="2.0" fill="#a6a6a6"/>
<circle cx="397.79" cy="343.60" r="2.0" fill="#a6a6a6"/>
<circle cx="401.99" cy="345.30" r="2.0" fill="#a6a6a6"/>
<circle cx="406.19" cy="347.50" r="2.0" fill="#a6a6a6"/>
<circle cx="410.40" cy="349.50" r="2.0" fill="#a6a6a6"/>
<circle cx="414.60" cy="351.40" r="2.0" fill="#a6a6a6"/>
<circle cx="418.80" cy="353.00" r="2.0" fill="#a6a6a6"/></g>
<g><line x1="521.30" y1="270.90" x2="521.30" y2="354.70" class="g"/>
<line x1="551.08" y1="270.90" x2="551.08" y2="354.70" class="g"/>
<line x1="580.86" y1="270.90" x2="580.86" y2="354.70" class="g"/>
<line x1="610.64" y1="270.90" x2="610.64" y2="354.70" class="g"/>
<line x1="640.42" y1="270.90" x2="640.42" y2="354.70" class="g"/>
<line x1="670.20" y1="270.90" x2="670.20" y2="354.70" class="g"/>
<line x1="521.30" y1="270.90" x2="670.20" y2="270.90" class="g"/>
<line x1="521.30" y1="291.85" x2="670.20" y2="291.85" class="g"/>
<line x1="521.30" y1="312.80" x2="670.20" y2="312.80" class="g"/>
<line x1="521.30" y1="333.75" x2="670.20" y2="333.75" class="g"/>
<line x1="521.30" y1="354.70" x2="670.20" y2="354.70" class="g"/>
<line x1="670.20" y1="270.90" x2="670.20" y2="354.70" class="a"/>
<line x1="521.30" y1="354.70" x2="670.20" y2="354.70" class="a"/>
<line x1="670.20" y1="279.90" x2="672.90" y2="279.90" class="a"/>
<line x1="670.20" y1="294.90" x2="672.90" y2="294.90" class="a"/>
<line x1="670.20" y1="309.90" x2="672.90" y2="309.90" class="a"/>
<line x1="670.20" y1="324.90" x2="672.90" y2="324.90" class="a"/>
<line x1="670.20" y1="339.90" x2="672.90" y2="339.90" class="a"/>
<line x1="670.20" y1="354.90" x2="672.90" y2="354.90" class="a"/>
<text transform="translate(513.00 273.20) rotate(0.04) scale(0.943 1)" class="t" text-anchor="end">36,8</text>
<text transform="translate(513.00 294.15) rotate(0.04) scale(0.943 1)" class="t" text-anchor="end">31,8</text>
<text transform="translate(513.00 315.10) rotate(0.04) scale(0.943 1)" class="t" text-anchor="end">26,8</text>
<text transform="translate(513.00 336.05) rotate(0.04) scale(0.943 1)" class="t" text-anchor="end">21,8</text>
<text transform="translate(513.00 357.00) rotate(0.04) scale(0.943 1)" class="t" text-anchor="end">16,8</text>
<text transform="translate(678.90 282.20) rotate(0.04) scale(0.943 1)" class="t">2,5</text>
<text transform="translate(678.90 297.20) rotate(0.04) scale(0.943 1)" class="t">2</text>
<text transform="translate(678.90 312.20) rotate(0.04) scale(0.943 1)" class="t">1,5</text>
<text transform="translate(678.90 327.20) rotate(0.04) scale(0.943 1)" class="t">1</text>
<text transform="translate(678.90 342.20) rotate(0.04) scale(0.943 1)" class="t">0,5</text>
<text transform="translate(678.90 357.20) rotate(0.04) scale(0.943 1)" class="t">0</text>
<text transform="translate(521.30 370.05) rotate(0.04) scale(0.943 1)" class="t" text-anchor="middle">0</text>
<text transform="translate(551.08 370.05) rotate(0.04) scale(0.943 1)" class="t" text-anchor="middle">200</text>
<text transform="translate(580.86 370.05) rotate(0.04) scale(0.943 1)" class="t" text-anchor="middle">400</text>
<text transform="translate(610.64 370.05) rotate(0.04) scale(0.943 1)" class="t" text-anchor="middle">600</text>
<text transform="translate(640.42 370.05) rotate(0.04) scale(0.943 1)" class="t" text-anchor="middle">800</text>
<text transform="translate(670.20 370.05) rotate(0.04) scale(0.943 1)" class="t" text-anchor="middle">1000</text>
<text transform="translate(488.80 313.70) rotate(-89.96)" class="b" text-anchor="middle" textLength="58.2" lengthAdjust="spacingAndGlyphs">ICP (mmHg)</text>
<text transform="translate(704.80 313.40) rotate(-89.96)" class="b" text-anchor="middle" textLength="46.5" lengthAdjust="spacingAndGlyphs">ΔICV (ml)</text>
<text transform="translate(595.30 386.40) rotate(0.04)" class="b" text-anchor="middle" textLength="48.6" lengthAdjust="spacingAndGlyphs">Time (ms)</text>
<path d="M521.30 354.10C521.74 353.13 524.30 349.49 524.97 346.00C525.85 341.38 527.76 322.86 528.64 315.60C529.52 308.34 531.43 289.81 532.31 285.50C532.86 282.81 535.10 278.07 535.98 279.70C536.86 281.33 538.77 293.78 539.65 299.10C540.53 304.42 542.44 321.35 543.32 324.00C543.90 325.75 546.29 322.91 546.99 321.20C547.87 319.06 549.78 309.27 550.66 306.20C551.54 303.13 553.45 296.31 554.33 295.60C555.21 294.89 557.14 298.07 558.00 300.30C558.88 302.59 560.79 312.14 561.67 314.70C562.55 317.26 564.46 321.07 565.34 321.60C566.22 322.13 568.13 320.30 569.01 319.10C569.89 317.90 571.80 312.66 572.68 311.60C573.56 310.54 575.47 309.44 576.35 310.30C577.23 311.16 579.14 316.90 580.02 318.80C580.90 320.70 582.81 324.90 583.69 326.10C584.57 327.30 586.48 328.55 587.36 328.80C588.24 329.05 590.15 328.34 591.03 328.20C591.91 328.06 593.82 327.48 594.70 327.60C595.58 327.72 597.49 328.67 598.37 329.20C599.25 329.73 601.16 331.24 602.04 332.00C602.92 332.76 604.83 334.84 605.71 335.50C606.59 336.16 608.50 337.08 609.38 337.50C610.26 337.92 612.17 338.52 613.05 339.00C613.93 339.48 615.84 340.90 616.72 341.50C617.60 342.10 619.51 343.46 620.39 344.00C621.27 344.54 623.18 345.59 624.06 346.00C624.94 346.41 626.85 347.04 627.73 347.40C628.61 347.76 630.52 348.64 631.40 349.00C632.28 349.36 634.19 350.09 635.07 350.40C635.95 350.71 637.86 351.40 638.74 351.60C639.62 351.80 641.53 352.24 642.41 352.10C643.29 351.96 645.64 350.60 646.08 350.40" fill="none" stroke="#000000" stroke-width="1.65" stroke-linejoin="round" stroke-linecap="round"/>
<circle cx="521.30" cy="354.10" r="2.0" fill="#000000"/>
<circle cx="524.97" cy="346.00" r="2.0" fill="#000000"/>
<circle cx="528.64" cy="315.60" r="2.0" fill="#000000"/>
<circle cx="532.31" cy="285.50" r="2.0" fill="#000000"/>
<circle cx="535.98" cy="279.70" r="2.0" fill="#000000"/>
<circle cx="539.65" cy="299.10" r="2.0" fill="#000000"/>
<circle cx="543.32" cy="324.00" r="2.0" fill="#000000"/>
<circle cx="546.99" cy="321.20" r="2.0" fill="#000000"/>
<circle cx="550.66" cy="306.20" r="2.0" fill="#000000"/>
<circle cx="554.33" cy="295.60" r="2.0" fill="#000000"/>
<circle cx="558.00" cy="300.30" r="2.0" fill="#000000"/>
<circle cx="561.67" cy="314.70" r="2.0" fill="#000000"/>
<circle cx="565.34" cy="321.60" r="2.0" fill="#000000"/>
<circle cx="569.01" cy="319.10" r="2.0" fill="#000000"/>
<circle cx="572.68" cy="311.60" r="2.0" fill="#000000"/>
<circle cx="576.35" cy="310.30" r="2.0" fill="#000000"/>
<circle cx="580.02" cy="318.80" r="2.0" fill="#000000"/>
<circle cx="583.69" cy="326.10" r="2.0" fill="#000000"/>
<circle cx="587.36" cy="328.80" r="2.0" fill="#000000"/>
<circle cx="591.03" cy="328.20" r="2.0" fill="#000000"/>
<circle cx="594.70" cy="327.60" r="2.0" fill="#000000"/>
<circle cx="598.37" cy="329.20" r="2.0" fill="#000000"/>
<circle cx="602.04" cy="332.00" r="2.0" fill="#000000"/>
<circle cx="605.71" cy="335.50" r="2.0" fill="#000000"/>
<circle cx="609.38" cy="337.50" r="2.0" fill="#000000"/>
<circle cx="613.05" cy="339.00" r="2.0" fill="#000000"/>
<circle cx="616.72" cy="341.50" r="2.0" fill="#000000"/>
<circle cx="620.39" cy="344.00" r="2.0" fill="#000000"/>
<circle cx="624.06" cy="346.00" r="2.0" fill="#000000"/>
<circle cx="627.73" cy="347.40" r="2.0" fill="#000000"/>
<circle cx="631.40" cy="349.00" r="2.0" fill="#000000"/>
<circle cx="635.07" cy="350.40" r="2.0" fill="#000000"/>
<circle cx="638.74" cy="351.60" r="2.0" fill="#000000"/>
<circle cx="642.41" cy="352.10" r="2.0" fill="#000000"/>
<circle cx="646.08" cy="350.40" r="2.0" fill="#000000"/>
<path d="M521.30 354.40C521.74 354.03 524.09 352.40 524.97 351.30C525.85 350.20 527.76 346.62 528.64 345.20C529.52 343.78 531.43 340.56 532.31 339.50C533.19 338.44 535.10 336.95 535.98 336.40C536.86 335.85 538.77 335.40 539.65 334.90C540.53 334.40 542.44 333.21 543.32 332.20C544.20 331.19 546.11 328.16 546.99 326.50C547.87 324.84 549.78 320.09 550.66 318.40C551.54 316.71 553.45 313.22 554.33 312.40C555.21 311.58 557.12 311.50 558.00 311.60C558.88 311.70 560.79 312.91 561.67 313.20C562.55 313.49 564.46 313.74 565.34 314.00C566.22 314.26 568.13 315.10 569.01 315.40C569.89 315.70 571.80 316.08 572.68 316.50C573.56 316.92 575.47 318.28 576.35 318.90C577.23 319.52 579.14 320.94 580.02 321.70C580.90 322.46 582.81 324.61 583.69 325.20C584.57 325.79 586.48 326.29 587.36 326.60C588.24 326.91 590.15 327.48 591.03 327.80C591.91 328.12 593.82 328.93 594.70 329.30C595.58 329.67 597.49 330.52 598.37 330.90C599.25 331.28 601.16 332.10 602.04 332.50C602.92 332.90 604.83 333.83 605.71 334.20C606.59 334.57 608.50 335.26 609.38 335.60C610.26 335.94 612.17 336.54 613.05 337.00C613.93 337.46 615.84 338.86 616.72 339.40C617.60 339.94 619.51 341.00 620.39 341.50C621.27 342.00 623.18 343.10 624.06 343.60C624.94 344.10 626.85 345.20 627.73 345.70C628.61 346.20 630.52 347.34 631.40 347.80C632.28 348.26 634.19 349.10 635.07 349.50C635.95 349.90 637.86 350.79 638.74 351.10C639.62 351.41 641.53 351.90 642.41 352.10C643.29 352.30 645.64 352.72 646.08 352.80" fill="none" stroke="#a6a6a6" stroke-width="1.65" stroke-linejoin="round" stroke-linecap="round"/>
<circle cx="521.30" cy="354.40" r="2.0" fill="#a6a6a6"/>
<circle cx="524.97" cy="351.30" r="2.0" fill="#a6a6a6"/>
<circle cx="528.64" cy="345.20" r="2.0" fill="#a6a6a6"/>
<circle cx="532.31" cy="339.50" r="2.0" fill="#a6a6a6"/>
<circle cx="535.98" cy="336.40" r="2.0" fill="#a6a6a6"/>
<circle cx="539.65" cy="334.90" r="2.0" fill="#a6a6a6"/>
<circle cx="543.32" cy="332.20" r="2.0" fill="#a6a6a6"/>
<circle cx="546.99" cy="326.50" r="2.0" fill="#a6a6a6"/>
<circle cx="550.66" cy="318.40" r="2.0" fill="#a6a6a6"/>
<circle cx="554.33" cy="312.40" r="2.0" fill="#a6a6a6"/>
<circle cx="558.00" cy="311.60" r="2.0" fill="#a6a6a6"/>
<circle cx="561.67" cy="313.20" r="2.0" fill="#a6a6a6"/>
<circle cx="565.34" cy="314.00" r="2.0" fill="#a6a6a6"/>
<circle cx="569.01" cy="315.40" r="2.0" fill="#a6a6a6"/>
<circle cx="572.68" cy="316.50" r="2.0" fill="#a6a6a6"/>
<circle cx="576.35" cy="318.90" r="2.0" fill="#a6a6a6"/>
<circle cx="580.02" cy="321.70" r="2.0" fill="#a6a6a6"/>
<circle cx="583.69" cy="325.20" r="2.0" fill="#a6a6a6"/>
<circle cx="587.36" cy="326.60" r="2.0" fill="#a6a6a6"/>
<circle cx="591.03" cy="327.80" r="2.0" fill="#a6a6a6"/>
<circle cx="594.70" cy="329.30" r="2.0" fill="#a6a6a6"/>
<circle cx="598.37" cy="330.90" r="2.0" fill="#a6a6a6"/>
<circle cx="602.04" cy="332.50" r="2.0" fill="#a6a6a6"/>
<circle cx="605.71" cy="334.20" r="2.0" fill="#a6a6a6"/>
<circle cx="609.38" cy="335.60" r="2.0" fill="#a6a6a6"/>
<circle cx="613.05" cy="337.00" r="2.0" fill="#a6a6a6"/>
<circle cx="616.72" cy="339.40" r="2.0" fill="#a6a6a6"/>
<circle cx="620.39" cy="341.50" r="2.0" fill="#a6a6a6"/>
<circle cx="624.06" cy="343.60" r="2.0" fill="#a6a6a6"/>
<circle cx="627.73" cy="345.70" r="2.0" fill="#a6a6a6"/>
<circle cx="631.40" cy="347.80" r="2.0" fill="#a6a6a6"/>
<circle cx="635.07" cy="349.50" r="2.0" fill="#a6a6a6"/>
<circle cx="638.74" cy="351.10" r="2.0" fill="#a6a6a6"/>
<circle cx="642.41" cy="352.10" r="2.0" fill="#a6a6a6"/>
<circle cx="646.08" cy="352.80" r="2.0" fill="#a6a6a6"/></g>
<g><line x1="41.90" y1="407.20" x2="41.90" y2="490.10" class="g"/>
<line x1="70.74" y1="407.20" x2="70.74" y2="490.10" class="g"/>
<line x1="99.58" y1="407.20" x2="99.58" y2="490.10" class="g"/>
<line x1="128.42" y1="407.20" x2="128.42" y2="490.10" class="g"/>
<line x1="157.26" y1="407.20" x2="157.26" y2="490.10" class="g"/>
<line x1="186.10" y1="407.20" x2="186.10" y2="490.10" class="g"/>
<line x1="41.90" y1="407.20" x2="186.10" y2="407.20" class="g"/>
<line x1="41.90" y1="421.02" x2="186.10" y2="421.02" class="g"/>
<line x1="41.90" y1="434.83" x2="186.10" y2="434.83" class="g"/>
<line x1="41.90" y1="448.65" x2="186.10" y2="448.65" class="g"/>
<line x1="41.90" y1="462.47" x2="186.10" y2="462.47" class="g"/>
<line x1="41.90" y1="476.28" x2="186.10" y2="476.28" class="g"/>
<line x1="41.90" y1="490.10" x2="186.10" y2="490.10" class="g"/>
<line x1="186.10" y1="407.20" x2="186.10" y2="490.10" class="a"/>
<line x1="41.90" y1="490.10" x2="186.10" y2="490.10" class="a"/>
<line x1="186.10" y1="413.10" x2="188.80" y2="413.10" class="a"/>
<line x1="186.10" y1="439.00" x2="188.80" y2="439.00" class="a"/>
<line x1="186.10" y1="464.90" x2="188.80" y2="464.90" class="a"/>
<line x1="186.10" y1="490.50" x2="188.80" y2="490.50" class="a"/>
<text transform="translate(33.40 409.50) rotate(0.04) scale(0.943 1)" class="t" text-anchor="end">27,6</text>
<text transform="translate(33.40 423.32) rotate(0.04) scale(0.943 1)" class="t" text-anchor="end">25,6</text>
<text transform="translate(33.40 437.13) rotate(0.04) scale(0.943 1)" class="t" text-anchor="end">23,6</text>
<text transform="translate(33.40 450.95) rotate(0.04) scale(0.943 1)" class="t" text-anchor="end">21,6</text>
<text transform="translate(33.40 464.77) rotate(0.04) scale(0.943 1)" class="t" text-anchor="end">19,6</text>
<text transform="translate(33.40 478.58) rotate(0.04) scale(0.943 1)" class="t" text-anchor="end">17,6</text>
<text transform="translate(33.40 492.40) rotate(0.04) scale(0.943 1)" class="t" text-anchor="end">15,6</text>
<text transform="translate(194.60 415.40) rotate(0.04) scale(0.943 1)" class="t">0,6</text>
<text transform="translate(194.60 441.30) rotate(0.04) scale(0.943 1)" class="t">0,4</text>
<text transform="translate(194.60 467.20) rotate(0.04) scale(0.943 1)" class="t">0,2</text>
<text transform="translate(194.60 492.80) rotate(0.04) scale(0.943 1)" class="t">0</text>
<text transform="translate(41.90 505.80) rotate(0.04) scale(0.943 1)" class="t" text-anchor="middle">0</text>
<text transform="translate(70.74 505.80) rotate(0.04) scale(0.943 1)" class="t" text-anchor="middle">200</text>
<text transform="translate(99.58 505.80) rotate(0.04) scale(0.943 1)" class="t" text-anchor="middle">400</text>
<text transform="translate(128.42 505.80) rotate(0.04) scale(0.943 1)" class="t" text-anchor="middle">600</text>
<text transform="translate(157.26 505.80) rotate(0.04) scale(0.943 1)" class="t" text-anchor="middle">800</text>
<text transform="translate(186.10 505.80) rotate(0.04) scale(0.943 1)" class="t" text-anchor="middle">1000</text>
<text transform="translate(10.25 449.50) rotate(-89.96)" class="b" text-anchor="middle" textLength="58.2" lengthAdjust="spacingAndGlyphs">ICP (mmHg)</text>
<text transform="translate(226.00 449.40) rotate(-89.96)" class="b" text-anchor="middle" textLength="46.5" lengthAdjust="spacingAndGlyphs">ΔICV (ml)</text>
<text transform="translate(113.50 522.50) rotate(0.04)" class="b" text-anchor="middle" textLength="48.6" lengthAdjust="spacingAndGlyphs">Time (ms)</text>
<path d="M41.90 489.70C42.43 486.77 45.26 471.70 46.32 465.30C47.38 458.90 49.68 438.24 50.74 436.40C51.80 434.56 54.10 446.89 55.16 450.00C56.22 453.11 58.52 463.64 59.58 462.30C60.64 460.96 62.94 445.00 64.00 438.80C65.06 432.60 67.36 412.98 68.42 410.60C69.48 408.22 71.78 416.20 72.84 419.00C73.90 421.80 76.20 433.55 77.26 433.90C78.32 434.25 80.62 424.23 81.68 421.90C82.74 419.57 85.04 414.48 86.10 414.50C87.16 414.52 89.46 419.92 90.52 422.10C91.58 424.28 93.88 431.60 94.94 432.70C96.00 433.80 98.30 431.07 99.36 431.30C100.42 431.53 102.72 433.56 103.78 434.60C104.84 435.64 107.14 438.81 108.20 440.00C109.26 441.19 111.56 443.64 112.62 444.50C113.68 445.36 115.98 446.44 117.04 447.20C118.10 447.96 120.40 449.96 121.46 450.80C122.52 451.64 124.82 453.35 125.88 454.20C126.94 455.05 129.24 456.96 130.30 457.90C131.36 458.84 133.66 461.11 134.72 462.00C135.78 462.89 138.08 464.65 139.14 465.30C140.20 465.95 142.50 466.81 143.56 467.40C144.62 467.99 146.92 469.41 147.98 470.20C149.04 470.99 151.34 473.27 152.40 474.00C153.46 474.73 155.76 475.94 156.82 476.30C157.88 476.66 160.18 476.60 161.24 477.00C162.30 477.40 164.60 478.59 165.66 479.60C166.72 480.61 169.55 484.70 170.08 485.40" fill="none" stroke="#000000" stroke-width="1.65" stroke-linejoin="round" stroke-linecap="round"/>
<circle cx="41.90" cy="489.70" r="2.0" fill="#000000"/>
<circle cx="46.32" cy="465.30" r="2.0" fill="#000000"/>
<circle cx="50.74" cy="436.40" r="2.0" fill="#000000"/>
<circle cx="55.16" cy="450.00" r="2.0" fill="#000000"/>
<circle cx="59.58" cy="462.30" r="2.0" fill="#000000"/>
<circle cx="64.00" cy="438.80" r="2.0" fill="#000000"/>
<circle cx="68.42" cy="410.60" r="2.0" fill="#000000"/>
<circle cx="72.84" cy="419.00" r="2.0" fill="#000000"/>
<circle cx="77.26" cy="433.90" r="2.0" fill="#000000"/>
<circle cx="81.68" cy="421.90" r="2.0" fill="#000000"/>
<circle cx="86.10" cy="414.50" r="2.0" fill="#000000"/>
<circle cx="90.52" cy="422.10" r="2.0" fill="#000000"/>
<circle cx="94.94" cy="432.70" r="2.0" fill="#000000"/>
<circle cx="99.36" cy="431.30" r="2.0" fill="#000000"/>
<circle cx="103.78" cy="434.60" r="2.0" fill="#000000"/>
<circle cx="108.20" cy="440.00" r="2.0" fill="#000000"/>
<circle cx="112.62" cy="444.50" r="2.0" fill="#000000"/>
<circle cx="117.04" cy="447.20" r="2.0" fill="#000000"/>
<circle cx="121.46" cy="450.80" r="2.0" fill="#000000"/>
<circle cx="125.88" cy="454.20" r="2.0" fill="#000000"/>
<circle cx="130.30" cy="457.90" r="2.0" fill="#000000"/>
<circle cx="134.72" cy="462.00" r="2.0" fill="#000000"/>
<circle cx="139.14" cy="465.30" r="2.0" fill="#000000"/>
<circle cx="143.56" cy="467.40" r="2.0" fill="#000000"/>
<circle cx="147.98" cy="470.20" r="2.0" fill="#000000"/>
<circle cx="152.40" cy="474.00" r="2.0" fill="#000000"/>
<circle cx="156.82" cy="476.30" r="2.0" fill="#000000"/>
<circle cx="161.24" cy="477.00" r="2.0" fill="#000000"/>
<circle cx="165.66" cy="479.60" r="2.0" fill="#000000"/>
<circle cx="170.08" cy="485.40" r="2.0" fill="#000000"/>
<path d="M41.90 490.00C42.43 489.92 45.26 489.68 46.32 489.30C47.38 488.92 49.68 487.56 50.74 486.80C51.80 486.04 54.10 483.83 55.16 483.00C56.22 482.17 58.52 480.81 59.58 479.90C60.64 478.99 62.94 476.62 64.00 475.40C65.06 474.18 67.36 471.45 68.42 469.70C69.48 467.95 71.78 463.32 72.84 460.80C73.90 458.28 76.20 451.57 77.26 448.70C78.32 445.83 80.62 439.36 81.68 436.90C82.74 434.44 85.04 429.75 86.10 428.20C87.16 426.65 89.46 424.62 90.52 424.00C91.58 423.38 93.88 422.70 94.94 423.00C96.00 423.30 98.30 425.48 99.36 426.50C100.42 427.52 102.72 430.24 103.78 431.50C104.84 432.76 107.14 435.87 108.20 437.00C109.26 438.13 111.56 440.18 112.62 440.90C113.68 441.62 115.98 442.59 117.04 443.00C118.10 443.41 120.40 443.90 121.46 444.30C122.52 444.70 124.82 445.72 125.88 446.30C126.94 446.88 129.24 448.30 130.30 449.10C131.36 449.90 133.66 451.79 134.72 453.00C135.78 454.21 138.08 457.76 139.14 459.20C140.20 460.64 142.50 463.60 143.56 465.00C144.62 466.40 146.92 469.34 147.98 470.90C149.04 472.46 151.34 476.61 152.40 478.00C153.46 479.39 155.76 481.49 156.82 482.50C157.88 483.51 160.18 485.62 161.24 486.40C162.30 487.18 164.60 488.58 165.66 489.00C166.72 489.42 169.55 489.79 170.08 489.90" fill="none" stroke="#a6a6a6" stroke-width="1.65" stroke-linejoin="round" stroke-linecap="round"/>
<circle cx="41.90" cy="490.00" r="2.0" fill="#a6a6a6"/>
<circle cx="46.32" cy="489.30" r="2.0" fill="#a6a6a6"/>
<circle cx="50.74" cy="486.80" r="2.0" fill="#a6a6a6"/>
<circle cx="55.16" cy="483.00" r="2.0" fill="#a6a6a6"/>
<circle cx="59.58" cy="479.90" r="2.0" fill="#a6a6a6"/>
<circle cx="64.00" cy="475.40" r="2.0" fill="#a6a6a6"/>
<circle cx="68.42" cy="469.70" r="2.0" fill="#a6a6a6"/>
<circle cx="72.84" cy="460.80" r="2.0" fill="#a6a6a6"/>
<circle cx="77.26" cy="448.70" r="2.0" fill="#a6a6a6"/>
<circle cx="81.68" cy="436.90" r="2.0" fill="#a6a6a6"/>
<circle cx="86.10" cy="428.20" r="2.0" fill="#a6a6a6"/>
<circle cx="90.52" cy="424.00" r="2.0" fill="#a6a6a6"/>
<circle cx="94.94" cy="423.00" r="2.0" fill="#a6a6a6"/>
<circle cx="99.36" cy="426.50" r="2.0" fill="#a6a6a6"/>
<circle cx="103.78" cy="431.50" r="2.0" fill="#a6a6a6"/>
<circle cx="108.20" cy="437.00" r="2.0" fill="#a6a6a6"/>
<circle cx="112.62" cy="440.90" r="2.0" fill="#a6a6a6"/>
<circle cx="117.04" cy="443.00" r="2.0" fill="#a6a6a6"/>
<circle cx="121.46" cy="444.30" r="2.0" fill="#a6a6a6"/>
<circle cx="125.88" cy="446.30" r="2.0" fill="#a6a6a6"/>
<circle cx="130.30" cy="449.10" r="2.0" fill="#a6a6a6"/>
<circle cx="134.72" cy="453.00" r="2.0" fill="#a6a6a6"/>
<circle cx="139.14" cy="459.20" r="2.0" fill="#a6a6a6"/>
<circle cx="143.56" cy="465.00" r="2.0" fill="#a6a6a6"/>
<circle cx="147.98" cy="470.90" r="2.0" fill="#a6a6a6"/>
<circle cx="152.40" cy="478.00" r="2.0" fill="#a6a6a6"/>
<circle cx="156.82" cy="482.50" r="2.0" fill="#a6a6a6"/>
<circle cx="161.24" cy="486.40" r="2.0" fill="#a6a6a6"/>
<circle cx="165.66" cy="489.00" r="2.0" fill="#a6a6a6"/>
<circle cx="170.08" cy="489.90" r="2.0" fill="#a6a6a6"/></g>
<g>
<line x1="231.9" y1="0" x2="231.9" y2="535" stroke="#f1f1f1" stroke-width="0.8"/>
<line x1="478.5" y1="0" x2="478.5" y2="400" stroke="#f1f1f1" stroke-width="0.8"/>
<line x1="264.7" y1="441.6" x2="286.7" y2="441.6" stroke="#9c9c9c" stroke-width="1.1"/>
<circle cx="274.6" cy="441.6" r="1.6" fill="#9c9c9c"/>
<text x="288.6" y="444.4" class="l" textLength="11.8" lengthAdjust="spacingAndGlyphs">ICV</text>
<line x1="264.7" y1="460.0" x2="286.7" y2="460.0" stroke="#000" stroke-width="1.5"/>
<path d="M272.3 460.2A2.3 3.0 0 0 1 276.9 460.2Z" fill="#000"/>
<text x="288.6" y="462.5" class="l" textLength="10.9" lengthAdjust="spacingAndGlyphs">ICP</text>
</g>
</svg>
</body></html>
